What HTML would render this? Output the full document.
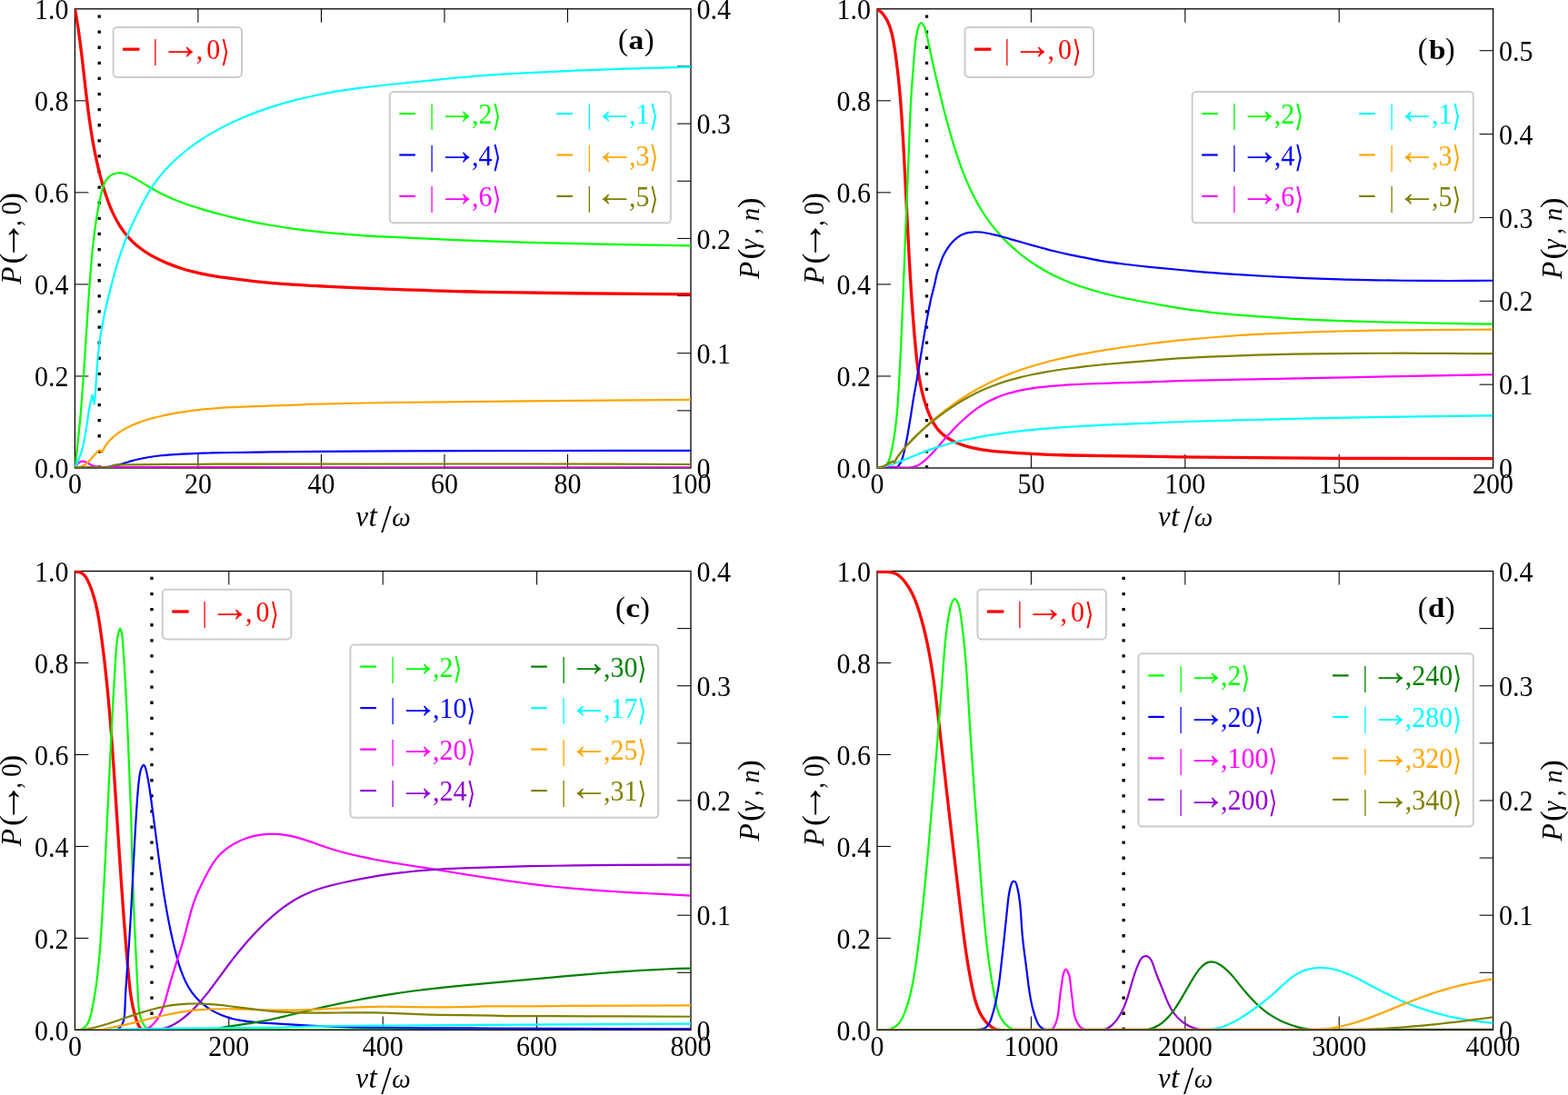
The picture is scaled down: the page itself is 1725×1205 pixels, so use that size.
<!DOCTYPE html>
<html lang="en"><head><meta charset="utf-8"><title>Figure</title>
<style>html,body{margin:0;padding:0;background:#fff;overflow:hidden}svg{display:block}</style></head>
<body>
<svg width="1725" height="1205" viewBox="0 0 1725 1205">
<rect width="1725" height="1205" fill="#fff"/>
<g>
<clipPath id="clip_a"><rect x="82.4" y="9.4" width="677.6" height="505.1"/></clipPath>
<rect x="82.4" y="9.8" width="677.6" height="505.2" fill="none" stroke="#000" stroke-width="1.3"/>
<g stroke="#000" stroke-width="1.05" fill="none">
<path d="M217.92,515v-15M217.92,9.8v15"/>
<path d="M353.44,515v-15M353.44,9.8v15"/>
<path d="M488.96,515v-15M488.96,9.8v15"/>
<path d="M624.48,515v-15M624.48,9.8v15"/>
<path d="M82.4,413.96h15"/>
<path d="M82.4,312.92h15"/>
<path d="M82.4,211.88h15"/>
<path d="M82.4,110.84h15"/>
<path d="M760,451.85h-15"/>
<path d="M760,388.7h-15"/>
<path d="M760,325.55h-15"/>
<path d="M760,262.4h-15"/>
<path d="M760,199.25h-15"/>
<path d="M760,136.1h-15"/>
<path d="M760,72.95h-15"/>
</g>
<g clip-path="url(#clip_a)" fill="none" stroke-linejoin="round" stroke-width="2.2">
<path d="M109.2,515V9.8" stroke="#000" stroke-width="3.3" stroke-dasharray="3.3 13.8" stroke-dashoffset="0.6"/>
<path d="M82.51,10.02C83.04,12.95 83.55,15.89 84.04,18.83C84.73,22.98 85.38,27.14 86,31.31C86.74,36.3 87.43,41.29 88.08,46.29C88.79,51.7 89.46,57.12 90.1,62.54C90.8,68.38 91.46,74.22 92.13,80.07C92.74,85.5 93.35,90.94 93.97,96.37C94.55,101.4 95.14,106.42 95.75,111.44C96.31,116.04 96.89,120.65 97.5,125.25C98.06,129.44 98.64,133.63 99.26,137.81C99.85,141.87 100.48,145.91 101.15,149.96C101.84,154.17 102.58,158.37 103.37,162.56C104.31,167.61 105.33,172.64 106.43,177.66C107.46,182.32 108.56,186.98 109.75,191.62C110.83,195.83 111.98,200.03 113.2,204.21C114.32,208.01 115.49,211.79 116.76,215.54C118.04,219.34 119.42,223.11 120.91,226.8C122.43,230.58 124.07,234.28 125.86,237.88C127.52,241.23 129.32,244.49 131.25,247.64C132.79,250.13 134.42,252.55 136.15,254.89C137.37,256.53 138.64,258.13 139.96,259.69C141.97,262.06 144.1,264.33 146.38,266.48C149,268.98 151.81,271.32 154.77,273.53C157.9,275.87 161.2,278.05 164.63,280.09C167.91,282.04 171.32,283.86 174.8,285.56C178.56,287.39 182.42,289.08 186.34,290.63C190.58,292.32 194.88,293.85 199.21,295.23C203.46,296.59 207.73,297.81 212.01,298.91C225.09,302.27 238.21,304.47 250.58,305.93C267.29,308.28 283.99,310.24 300.7,311.6C317.4,312.95 334.11,313.85 350.82,314.76C367.52,315.67 384.23,316.46 400.93,317.17C411.29,317.61 421.65,318.01 432,318.36C465.41,319.5 498.82,320.65 532.23,321.29C565.64,321.94 599.06,322.37 632.47,322.73C675.07,323.19 717.66,323.59 760.26,323.81" stroke="#ff0000" stroke-width="3.3"/>
<path d="M82.51,514.06C83.15,509.03 83.76,504 84.34,498.96C85.06,492.72 85.74,486.47 86.37,480.21C87.21,471.88 87.98,463.55 88.7,455.2C89.42,446.86 90.08,438.5 90.71,430.15C91.34,421.79 91.92,413.43 92.49,405.06C92.82,400.12 93.15,395.17 93.47,390.22C93.9,383.53 94.33,376.84 94.76,370.15C95.18,363.45 95.61,356.76 96.04,350.07C96.5,342.97 96.97,335.87 97.46,328.78C97.84,323.35 98.22,317.93 98.62,312.51C98.91,308.67 99.2,304.84 99.5,301.01C99.84,296.63 100.2,292.25 100.58,287.88C101.01,282.88 101.48,277.87 101.99,272.87C102.5,267.86 103.06,262.84 103.69,257.82C104.31,252.8 105,247.76 105.78,242.72C106.49,238.08 107.27,233.44 108.13,228.78C109,224.1 109.95,219.42 111,214.72C111.77,211.25 112.6,207.77 113.74,204.58C114.58,202.23 115.59,200.04 116.88,198.1C117.94,196.5 119.2,195.07 120.7,193.89C122.09,192.8 123.68,191.91 125.38,191.28C126.87,190.72 128.43,190.36 129.98,190.23C131.54,190.11 133.08,190.21 134.62,190.49C136.66,190.86 138.69,191.54 140.72,192.4C142.87,193.32 145.01,194.45 147.15,195.63C149.74,197.07 152.32,198.58 154.9,200.12C157.49,201.66 160.07,203.23 162.66,204.78C165.19,206.29 167.73,207.78 170.29,209.2C173.64,211.07 177.02,212.81 180.43,214.45C183.76,216.06 187.12,217.56 190.49,218.98C193.81,220.38 197.14,221.69 200.49,222.94C203.81,224.18 207.15,225.35 210.5,226.48C213.8,227.58 217.11,228.64 220.44,229.67C223.74,230.69 227.06,231.68 230.38,232.63C234.52,233.82 238.68,234.96 242.85,236.05C246.98,237.13 251.13,238.17 255.3,239.16C259.45,240.15 263.62,241.1 267.8,242.01C271.96,242.91 276.12,243.77 280.3,244.59C285.47,245.6 290.66,246.56 295.86,247.46C305.77,249.18 315.72,250.7 325.71,252.04C334.08,253.17 342.47,254.17 350.87,255.07C359.25,255.97 367.64,256.76 376.03,257.46C384.39,258.15 392.75,258.76 401.1,259.29C411.43,259.95 421.74,260.49 432,260.95C457.06,262.19 482.12,263.34 507.17,264.3C532.23,265.26 557.29,266.13 582.35,266.82C607.41,267.52 632.47,268.1 657.52,268.6C691.77,269.29 726.02,269.91 760.26,270.38" stroke="#00ff00"/>
<path d="M82.51,514.06C93.36,514.06 104.22,514.06 115.08,514.06C115.92,514.06 116.75,513.99 117.59,513.93C119.26,513.82 120.93,513.47 122.6,513.18C124.27,512.9 125.94,512.55 127.61,512.18C129.28,511.81 130.95,511.38 132.62,510.93C134.71,510.36 136.8,509.67 138.89,509.05C140.97,508.42 143.06,507.74 145.15,507.17C147.66,506.48 150.16,505.85 152.67,505.29C155.17,504.73 157.68,504.24 160.19,503.79C162.69,503.33 165.2,502.89 167.7,502.53C171.04,502.05 174.38,501.62 177.73,501.28C181.07,500.94 184.41,500.65 187.75,500.4C191.09,500.16 194.43,499.96 197.77,499.78C201.11,499.59 204.45,499.42 207.8,499.28C211.14,499.13 214.48,499.01 217.82,498.9C222,498.76 226.17,498.63 230.35,498.52C238.7,498.32 247.05,498.17 255.41,498.02C263.76,497.88 272.11,497.78 280.46,497.65C285.64,497.57 290.82,497.46 296,497.4C314,497.17 332,497.03 350,496.9C377.33,496.7 404.67,496.5 432,496.4C488,496.2 544,496.09 600,496C653.43,495.91 706.87,495.84 760.3,495.8" stroke="#0000ff"/>
<path d="M82.51,513.81C83.3,512.79 84.35,511.39 85.56,510.2C86.4,509.37 87.32,508.64 88.3,508.19C89.24,507.77 90.24,507.62 91.24,507.67C92.26,507.73 93.29,508 94.3,508.41C95.42,508.87 96.51,509.51 97.59,510.16C98.84,510.91 100.07,511.69 101.35,512.25C102.54,512.77 103.76,513.1 105.02,513.32C106.63,513.61 108.31,513.71 110.07,513.81C326.81,514.29 543.56,514.3 760.3,514.3" stroke="#ff00ff"/>
<path d="M82.51,514.06C83.49,512.33 84.39,510.57 85.21,508.79C86.52,505.99 87.65,503.12 88.64,500.21C89.74,496.98 90.66,493.69 91.46,490.35C92.45,486.23 93.25,482.05 93.96,477.83C94.8,472.81 95.5,467.73 96.23,462.67C96.96,457.6 97.7,452.54 98.63,447.55C99.44,443.22 100.37,438.95 101.55,434.75L101.55,434.75C102.3,438.01 103.05,441.27 103.81,444.52L103.81,444.52C104.07,441.81 104.31,439.09 104.54,436.38C104.95,431.37 105.3,426.37 105.64,421.36C106,415.92 106.36,410.48 106.75,405.04C106.99,401.76 107.24,398.48 107.53,395.2C107.96,390.19 108.46,385.19 109.08,380.19C109.59,376.01 110.19,371.84 110.86,367.67C111.66,362.65 112.56,357.63 113.54,352.64C114.53,347.6 115.61,342.59 116.74,337.59C117.7,333.33 118.71,329.09 119.76,324.87C120.89,320.26 122.07,315.67 123.26,311.11C124.24,307.36 125.24,303.64 126.27,299.93C127.02,297.23 127.79,294.54 128.59,291.85C129.68,288.16 130.83,284.48 132.06,280.81C133.18,277.45 134.36,274.1 135.6,270.76C136.88,267.32 138.22,263.9 139.61,260.47C141.18,256.65 142.82,252.83 144.52,249.02C146.14,245.38 147.83,241.75 149.56,238.15C151.25,234.63 152.98,231.14 154.75,227.68C156.64,223.97 158.58,220.3 160.6,216.7C162.52,213.27 164.53,209.91 166.65,206.64C168.6,203.65 170.65,200.74 172.79,197.91C175.18,194.74 177.69,191.67 180.31,188.7C182.72,185.96 185.22,183.3 187.8,180.72C190.28,178.24 192.83,175.83 195.45,173.49C198.34,170.91 201.3,168.41 204.34,166C207.2,163.73 210.12,161.53 213.09,159.4C215.53,157.65 218.01,155.95 220.53,154.29C222.27,153.14 224.04,152.01 225.82,150.89C227.3,149.97 228.8,149.05 230.3,148.16C234.39,145.71 238.56,143.37 242.77,141.13C246.89,138.93 251.06,136.84 255.28,134.83C259.41,132.87 263.59,131 267.8,129.2C271.96,127.43 276.16,125.75 280.39,124.14C285.51,122.19 290.68,120.35 295.89,118.63C305.7,115.37 315.64,112.5 325.69,109.94C334.01,107.82 342.41,105.93 350.84,104.22C359.2,102.53 367.6,101.03 376.02,99.68C384.38,98.35 392.76,97.17 401.12,96.11C411.45,94.81 421.76,93.7 432,92.72C448.71,90.95 465.41,89.19 482.12,87.6C498.82,86.01 515.53,84.31 532.23,83.11C548.94,81.92 565.64,81.03 582.35,80.13C599.06,79.23 615.76,78.33 632.47,77.65C649.17,76.97 665.88,76.45 682.58,75.92C708.48,75.1 734.37,74.33 760.26,73.67" stroke="#00ffff"/>
<path d="M82.51,514.06C84.91,514.37 87.04,514.15 88.99,513.55C90.21,513.18 91.36,512.65 92.45,512C93.79,511.21 95.04,510.23 96.23,509.15C97.53,507.97 98.76,506.66 99.95,505.3C101.26,503.82 102.53,502.29 103.81,500.82C104.91,499.57 106.01,498.36 107.16,497.25C107.9,496.54 108.66,495.87 109.44,495.27L109.44,495.27C109.99,495.27 110.53,495.55 111.07,495.89C111.49,496.16 111.91,496.94 112.32,497.77L112.32,497.77C112.89,496.35 113.53,494.98 114.24,493.66C114.97,492.3 115.78,490.99 116.65,489.73C117.55,488.44 118.51,487.2 119.54,486.01C120.94,484.38 122.46,482.85 124.06,481.39C125.91,479.73 127.88,478.17 129.94,476.71C132.32,475.02 134.81,473.47 137.38,472.03C139.83,470.66 142.33,469.4 144.89,468.24C147.34,467.12 149.83,466.08 152.36,465.12C154.86,464.18 157.38,463.31 159.93,462.49C162.45,461.69 164.98,460.95 167.54,460.26C170.92,459.34 174.33,458.5 177.74,457.73C181.11,456.96 184.48,456.25 187.86,455.6C191.22,454.95 194.58,454.35 197.94,453.8C201.28,453.25 204.62,452.75 207.96,452.3C211.3,451.84 214.63,451.43 217.96,451.06C222.12,450.59 226.28,450.18 230.44,449.82C234.6,449.46 238.76,449.14 242.92,448.87C247.07,448.59 251.23,448.36 255.39,448.15C259.55,447.94 263.71,447.76 267.87,447.6C272.04,447.44 276.2,447.3 280.37,447.17C285.53,447.01 290.71,446.86 295.88,446.7C310.54,446.27 325.25,445.81 340,444.9C370.67,444.02 401.33,443.44 432,443C482,442.28 532,441.87 582,441.4C641.43,440.84 700.87,440.33 760.3,439.9" stroke="#ffa500"/>
<path d="M82.51,514.06C95.45,514.06 108.4,514.06 121.35,514.06C121.76,514.06 122.18,513.73 122.6,513.56L122.6,513.56C123.22,512.81 123.85,512.13 124.48,511.93C125.1,511.73 125.73,511.58 126.36,511.55C131.79,511.35 137.22,511.37 142.64,511.3C151,511.2 159.35,511.11 167.7,511.05C184.41,510.94 201.11,510.87 217.82,510.8C243.88,510.7 269.94,510.56 296,510.55C391.45,510.51 486.9,510.5 582.35,510.5C641.65,510.5 700.96,510.76 760.26,510.99" stroke="#808000"/>
</g>
<g fill="#000">
<text transform="translate(82.4,543.3) scale(1,1.085)" font-family='"Liberation Serif","DejaVu Serif",serif' font-size="30" text-anchor="middle">0</text>
<text transform="translate(217.92,543.3) scale(1,1.085)" font-family='"Liberation Serif","DejaVu Serif",serif' font-size="30" text-anchor="middle">20</text>
<text transform="translate(353.44,543.3) scale(1,1.085)" font-family='"Liberation Serif","DejaVu Serif",serif' font-size="30" text-anchor="middle">40</text>
<text transform="translate(488.96,543.3) scale(1,1.085)" font-family='"Liberation Serif","DejaVu Serif",serif' font-size="30" text-anchor="middle">60</text>
<text transform="translate(624.48,543.3) scale(1,1.085)" font-family='"Liberation Serif","DejaVu Serif",serif' font-size="30" text-anchor="middle">80</text>
<text transform="translate(760,543.3) scale(1,1.085)" font-family='"Liberation Serif","DejaVu Serif",serif' font-size="30" text-anchor="middle">100</text>
<text transform="translate(75.5,526.1) scale(1,1.085)" font-family='"Liberation Serif","DejaVu Serif",serif' font-size="30" text-anchor="end">0.0</text>
<text transform="translate(75.5,425.06) scale(1,1.085)" font-family='"Liberation Serif","DejaVu Serif",serif' font-size="30" text-anchor="end">0.2</text>
<text transform="translate(75.5,324.02) scale(1,1.085)" font-family='"Liberation Serif","DejaVu Serif",serif' font-size="30" text-anchor="end">0.4</text>
<text transform="translate(75.5,222.98) scale(1,1.085)" font-family='"Liberation Serif","DejaVu Serif",serif' font-size="30" text-anchor="end">0.6</text>
<text transform="translate(75.5,121.94) scale(1,1.085)" font-family='"Liberation Serif","DejaVu Serif",serif' font-size="30" text-anchor="end">0.8</text>
<text transform="translate(75.5,20.9) scale(1,1.085)" font-family='"Liberation Serif","DejaVu Serif",serif' font-size="30" text-anchor="end">1.0</text>
<text transform="translate(766.5,526.1) scale(1,1.085)" font-family='"Liberation Serif","DejaVu Serif",serif' font-size="30">0</text>
<text transform="translate(766.5,399.8) scale(1,1.085)" font-family='"Liberation Serif","DejaVu Serif",serif' font-size="30">0.1</text>
<text transform="translate(766.5,273.5) scale(1,1.085)" font-family='"Liberation Serif","DejaVu Serif",serif' font-size="30">0.2</text>
<text transform="translate(766.5,147.2) scale(1,1.085)" font-family='"Liberation Serif","DejaVu Serif",serif' font-size="30">0.3</text>
<text transform="translate(766.5,20.9) scale(1,1.085)" font-family='"Liberation Serif","DejaVu Serif",serif' font-size="30">0.4</text>
</g>
<g fill="#000"><text transform="translate(391.38,578.6) scale(1.017,1.017)" font-family='"Liberation Serif","DejaVu Serif",serif' font-size="30" font-style="italic">v</text><text transform="translate(405.43,578.57) scale(1.112,1.112)" font-family='"Liberation Serif","DejaVu Serif",serif' font-size="30" font-style="italic">t</text><text transform="translate(419.3,585.76) scale(1.356,1.485)" font-family='"Liberation Serif","DejaVu Serif",serif' font-size="30">/</text><text transform="translate(431.24,578.62) scale(0.968,0.968)" font-family='"Liberation Serif","DejaVu Serif",serif' font-size="30" font-style="italic">ω</text></g>
<g fill="#000" transform="translate(22.9,262.4) rotate(-90)"><text transform="translate(-50.23,0) scale(1.049,1.049)" font-family='"Liberation Serif","DejaVu Serif",serif' font-size="30" font-style="italic">P</text><text transform="translate(-28.17,0.32) scale(1.194,1.125)" font-family='"Liberation Serif","DejaVu Serif",serif' font-size="30">(</text><text transform="translate(-24.7,-0.25) scale(1.487,1.536)" font-family='"Liberation Serif","DejaVu Serif",serif' font-size="30">→</text><text transform="translate(13.53,0.45) scale(0.851,1.116)" font-family='"Liberation Serif","DejaVu Serif",serif' font-size="30">,</text><text transform="translate(25.87,0) scale(0.991,1.037)" font-family='"Liberation Serif","DejaVu Serif",serif' font-size="30">0</text><text transform="translate(38.55,0.32) scale(1.194,1.125)" font-family='"Liberation Serif","DejaVu Serif",serif' font-size="30">)</text></g>
<g fill="#000" transform="translate(834.9,262.4) rotate(-90)"><text transform="translate(-44.53,0) scale(1.049,1.049)" font-family='"Liberation Serif","DejaVu Serif",serif' font-size="30" font-style="italic">P</text><text transform="translate(-23.17,0.32) scale(1.194,1.125)" font-family='"Liberation Serif","DejaVu Serif",serif' font-size="30">(</text><text transform="translate(-12.32,-0.48) scale(0.967,0.967)" font-family='"Liberation Serif","DejaVu Serif",serif' font-size="30" font-style="italic">γ</text><text transform="translate(4.83,0.45) scale(0.851,1.116)" font-family='"Liberation Serif","DejaVu Serif",serif' font-size="30">,</text><text transform="translate(19.17,0) scale(0.962,0.962)" font-family='"Liberation Serif","DejaVu Serif",serif' font-size="30" font-style="italic">n</text><text transform="translate(33.05,0.32) scale(1.194,1.125)" font-family='"Liberation Serif","DejaVu Serif",serif' font-size="30">)</text></g>
</g>
<rect x="124.6" y="30" width="141.4" height="54.9" rx="4.3" fill="#fff" fill-opacity="0.8" stroke="#ccc" stroke-width="2"/>
<path d="M135.1,54.2h18.4" stroke="#ff0000" stroke-width="3.3"/>
<g fill="#ff0000"><text transform="translate(168.34,65.3) scale(0.870,1.081)" font-family='"Liberation Serif","DejaVu Serif",serif' font-size="30">|</text><text transform="translate(176.26,65.05) scale(1.493,1.536)" font-family='"Liberation Serif","DejaVu Serif",serif' font-size="30">→</text><text transform="translate(215.7,65.2) scale(1,1.085)" font-family='"Liberation Serif","DejaVu Serif",serif' font-size="30">,</text><text transform="translate(227.2,65.2) scale(1,1.085)" font-family='"Liberation Serif","DejaVu Serif",serif' font-size="30">0</text><text transform="translate(242.8,67.93) scale(0.831,1.104)" font-family='"DejaVu Sans","Liberation Serif",sans-serif' font-size="30">⟩</text></g>
<rect x="428.8" y="100.9" width="309.1" height="144.4" rx="4.3" fill="#fff" fill-opacity="0.8" stroke="#ccc" stroke-width="2"/>
<path d="M439.3,125.1h17.6" stroke="#00ff00" stroke-width="2.2"/>
<g fill="#00ff00"><text transform="translate(472.54,136.2) scale(0.870,1.081)" font-family='"Liberation Serif","DejaVu Serif",serif' font-size="30">|</text><text transform="translate(480.46,135.95) scale(1.493,1.536)" font-family='"Liberation Serif","DejaVu Serif",serif' font-size="30">→</text><text transform="translate(519,136.1) scale(1,1.085)" font-family='"Liberation Serif","DejaVu Serif",serif' font-size="30">,2</text><text transform="translate(541.5,138.83) scale(0.831,1.104)" font-family='"DejaVu Sans","Liberation Serif",sans-serif' font-size="30">⟩</text></g>
<path d="M439.3,170.5h17.6" stroke="#0000ff" stroke-width="2.2"/>
<g fill="#0000ff"><text transform="translate(472.54,181.6) scale(0.870,1.081)" font-family='"Liberation Serif","DejaVu Serif",serif' font-size="30">|</text><text transform="translate(480.46,181.35) scale(1.493,1.536)" font-family='"Liberation Serif","DejaVu Serif",serif' font-size="30">→</text><text transform="translate(519,181.5) scale(1,1.085)" font-family='"Liberation Serif","DejaVu Serif",serif' font-size="30">,4</text><text transform="translate(541.5,184.23) scale(0.831,1.104)" font-family='"DejaVu Sans","Liberation Serif",sans-serif' font-size="30">⟩</text></g>
<path d="M439.3,215.9h17.6" stroke="#ff00ff" stroke-width="2.2"/>
<g fill="#ff00ff"><text transform="translate(472.54,227) scale(0.870,1.081)" font-family='"Liberation Serif","DejaVu Serif",serif' font-size="30">|</text><text transform="translate(480.46,226.75) scale(1.493,1.536)" font-family='"Liberation Serif","DejaVu Serif",serif' font-size="30">→</text><text transform="translate(519,226.9) scale(1,1.085)" font-family='"Liberation Serif","DejaVu Serif",serif' font-size="30">,6</text><text transform="translate(541.5,229.63) scale(0.831,1.104)" font-family='"DejaVu Sans","Liberation Serif",sans-serif' font-size="30">⟩</text></g>
<path d="M612.4,125.1h17.6" stroke="#00ffff" stroke-width="2.2"/>
<g fill="#00ffff"><text transform="translate(645.64,136.2) scale(0.870,1.081)" font-family='"Liberation Serif","DejaVu Serif",serif' font-size="30">|</text><text transform="translate(653.56,135.95) scale(1.493,1.536)" font-family='"Liberation Serif","DejaVu Serif",serif' font-size="30">←</text><text transform="translate(692.1,136.1) scale(1,1.085)" font-family='"Liberation Serif","DejaVu Serif",serif' font-size="30">,1</text><text transform="translate(714.6,138.83) scale(0.831,1.104)" font-family='"DejaVu Sans","Liberation Serif",sans-serif' font-size="30">⟩</text></g>
<path d="M612.4,170.5h17.6" stroke="#ffa500" stroke-width="2.2"/>
<g fill="#ffa500"><text transform="translate(645.64,181.6) scale(0.870,1.081)" font-family='"Liberation Serif","DejaVu Serif",serif' font-size="30">|</text><text transform="translate(653.56,181.35) scale(1.493,1.536)" font-family='"Liberation Serif","DejaVu Serif",serif' font-size="30">←</text><text transform="translate(692.1,181.5) scale(1,1.085)" font-family='"Liberation Serif","DejaVu Serif",serif' font-size="30">,3</text><text transform="translate(714.6,184.23) scale(0.831,1.104)" font-family='"DejaVu Sans","Liberation Serif",sans-serif' font-size="30">⟩</text></g>
<path d="M612.4,215.9h17.6" stroke="#808000" stroke-width="2.2"/>
<g fill="#808000"><text transform="translate(645.64,227) scale(0.870,1.081)" font-family='"Liberation Serif","DejaVu Serif",serif' font-size="30">|</text><text transform="translate(653.56,226.75) scale(1.493,1.536)" font-family='"Liberation Serif","DejaVu Serif",serif' font-size="30">←</text><text transform="translate(692.1,226.9) scale(1,1.085)" font-family='"Liberation Serif","DejaVu Serif",serif' font-size="30">,5</text><text transform="translate(714.6,229.63) scale(0.831,1.104)" font-family='"DejaVu Sans","Liberation Serif",sans-serif' font-size="30">⟩</text></g>
<g fill="#000"><text transform="translate(680.06,54.62) scale(1.090,1.125)" font-family='"Liberation Serif","DejaVu Serif",serif' font-size="30">(</text><text transform="translate(691.52,54.12) scale(1.119,0.967)" font-family='"Liberation Serif","DejaVu Serif",serif' font-size="30" font-weight="bold">a</text><text transform="translate(708.65,54.62) scale(1.090,1.125)" font-family='"Liberation Serif","DejaVu Serif",serif' font-size="30">)</text></g>
<g>
<clipPath id="clip_b"><rect x="965" y="9.4" width="677.6" height="505.1"/></clipPath>
<rect x="965" y="9.8" width="677.6" height="505.2" fill="none" stroke="#000" stroke-width="1.3"/>
<g stroke="#000" stroke-width="1.05" fill="none">
<path d="M1134.4,515v-15M1134.4,9.8v15"/>
<path d="M1303.8,515v-15M1303.8,9.8v15"/>
<path d="M1473.2,515v-15M1473.2,9.8v15"/>
<path d="M965,413.96h15"/>
<path d="M965,312.92h15"/>
<path d="M965,211.88h15"/>
<path d="M965,110.84h15"/>
<path d="M1642.6,423.15h-15"/>
<path d="M1642.6,331.29h-15"/>
<path d="M1642.6,239.44h-15"/>
<path d="M1642.6,147.58h-15"/>
<path d="M1642.6,55.73h-15"/>
</g>
<g clip-path="url(#clip_b)" fill="none" stroke-linejoin="round" stroke-width="2.2">
<path d="M1019.5,515V9.8" stroke="#000" stroke-width="3.3" stroke-dasharray="3.3 13.8" stroke-dashoffset="0.6"/>
<path d="M965.01,10.4C966.15,10.99 967.19,11.67 968.15,12.41C969.38,13.35 970.47,14.4 971.47,15.54C973.29,17.62 974.77,20 976.04,22.52C978.07,26.54 979.58,30.94 980.78,35.54C982.29,41.32 983.31,47.42 984.23,53.49C985.34,60.77 986.31,68.01 987.17,75.22C987.98,81.98 988.7,88.72 989.33,95.44C989.89,101.31 990.39,107.16 990.85,113.01C991.34,119.25 991.78,125.49 992.18,131.73C992.58,137.83 992.95,143.94 993.31,150.05C993.79,158.35 994.25,166.67 994.69,175C995.14,183.33 995.56,191.66 995.98,200.01C996.4,208.35 996.81,216.7 997.22,225.05C997.63,233.41 998.04,241.78 998.47,250.14C998.89,258.51 999.32,266.88 999.77,275.25C1000.21,283.49 1000.67,291.74 1001.16,299.98C1001.66,308.35 1002.18,316.71 1002.74,325.07C1003.3,333.44 1003.89,341.8 1004.53,350.16C1005.04,356.86 1005.58,363.55 1006.15,370.24C1006.43,373.51 1006.72,376.79 1007.02,380.06C1007.4,384.24 1007.79,388.42 1008.23,392.58C1008.75,397.6 1009.33,402.61 1010.03,407.6C1010.73,412.62 1011.54,417.62 1012.51,422.59C1013.41,427.2 1014.45,431.78 1015.67,436.34C1016.79,440.56 1018.08,444.75 1019.54,448.9C1020.9,452.75 1022.41,456.57 1024.17,460.22C1025.64,463.27 1027.29,466.21 1029.16,468.95C1030.97,471.6 1032.99,474.07 1035.28,476.29C1037.47,478.41 1039.9,480.3 1042.51,481.99C1045.26,483.77 1048.19,485.33 1051.24,486.69C1054.11,487.98 1057.07,489.11 1060.09,490.09C1063.45,491.18 1066.87,492.1 1070.29,492.89C1073.65,493.66 1077.01,494.29 1080.38,494.83C1084.13,495.43 1087.88,495.91 1091.64,496.32C1095.79,496.77 1099.94,497.13 1104.1,497.46C1108.25,497.79 1112.41,498.09 1116.58,498.37C1122.83,498.79 1129.09,499.15 1135.36,499.47C1141.63,499.79 1147.9,500.06 1154.18,500.3C1161.47,500.57 1168.76,500.79 1176.04,500.98C1189,501.31 1201.95,501.52 1214.82,501.7C1241.88,502.14 1268.94,502.5 1296,502.8C1353.47,503.44 1410.94,504.2 1468.41,504.34C1526.46,504.49 1584.51,504.6 1642.56,504.6" stroke="#ff0000" stroke-width="3.3"/>
<path d="M965.26,514.31C967.4,514.51 969.2,514.36 970.73,513.92C972.03,513.55 973.13,512.98 974.08,512.25C975.5,511.15 976.56,509.69 977.4,508.01C978.7,505.43 979.46,502.33 980.16,499.23C981.13,494.99 981.97,490.74 982.73,486.49C983.69,481.05 984.49,475.6 985.18,470.15C986.07,463.05 986.75,455.95 987.31,448.84C987.98,440.5 988.47,432.16 988.94,423.82C989.41,415.47 989.85,407.13 990.27,398.79C990.66,390.92 991.04,383.05 991.4,375.18C991.78,366.83 992.14,358.48 992.49,350.14C992.84,341.79 993.18,333.44 993.51,325.08C994.08,310.6 994.64,296.11 995.19,281.61C995.43,275.34 995.67,269.07 995.92,262.8C996.16,256.53 996.41,250.26 996.66,243.99C996.91,237.72 997.17,231.44 997.43,225.17C997.69,218.9 997.95,212.62 998.21,206.35C998.47,200.07 998.72,193.8 998.97,187.53C999.23,181.26 999.47,174.99 999.71,168.72C1000.1,158.39 1000.46,148.07 1000.88,137.76C1001.14,131.49 1001.41,125.24 1001.73,118.98C1002.04,112.72 1002.4,106.47 1002.81,100.22C1003.25,93.55 1003.75,86.88 1004.28,80.22C1004.8,73.54 1005.35,66.87 1005.88,60.19C1006.32,54.55 1006.75,48.9 1007.54,43.24C1008.03,39.72 1008.66,36.2 1009.51,32.68C1009.99,30.7 1010.55,28.72 1011.54,26.94C1012.11,25.9 1012.84,24.93 1013.57,24.98C1014.29,25.03 1015.02,26.09 1015.65,27.17C1016.66,28.87 1017.41,30.59 1018.02,32.33C1019.03,35.27 1019.61,38.25 1020.21,41.26C1020.96,45 1021.75,48.8 1022.56,52.61C1023.81,58.52 1025.12,64.49 1026.44,70.4C1027.75,76.3 1029.08,82.15 1030.43,87.96C1032.07,95.04 1033.74,102.07 1035.47,109.07C1037.01,115.29 1038.59,121.49 1040.23,127.69C1041.67,133.12 1043.15,138.56 1044.69,144.01C1046.42,150.13 1048.22,156.26 1050.12,162.39C1051.7,167.46 1053.36,172.53 1055.11,177.56C1056.73,182.22 1058.44,186.84 1060.24,191.42C1062.24,196.51 1064.36,201.54 1066.63,206.49C1068.58,210.75 1070.64,214.95 1072.82,219.07C1074.83,222.87 1076.94,226.6 1079.16,230.26C1081.2,233.61 1083.33,236.9 1085.57,240.11C1087.95,243.52 1090.44,246.85 1093.04,250.09C1095.81,253.53 1098.7,256.88 1101.7,260.13C1104.5,263.15 1107.4,266.08 1110.39,268.92C1113.6,271.97 1116.91,274.91 1120.33,277.74C1123.54,280.4 1126.83,282.96 1130.21,285.41C1133.85,288.07 1137.59,290.6 1141.41,293.01C1145.44,295.54 1149.56,297.94 1153.76,300.18C1156.77,301.79 1159.82,303.32 1162.9,304.78C1167.17,306.8 1171.51,308.69 1175.91,310.46C1180.45,312.28 1185.05,313.97 1189.7,315.55C1197.98,318.36 1206.41,320.82 1214.93,323.01C1223.3,325.16 1231.76,327.06 1240.22,328.79C1248.63,330.51 1257.05,332.06 1265.41,333.54C1275.74,335.36 1285.98,337.06 1296,338.82C1311.71,341.15 1327.41,343.29 1343.12,344.85C1359.82,346.5 1376.53,347.73 1393.23,348.88C1409.94,350.03 1426.64,351.16 1443.35,351.91C1460.06,352.66 1476.76,353.19 1493.47,353.69C1510.17,354.18 1526.88,354.61 1543.58,354.97C1560.29,355.32 1576.99,355.6 1593.7,355.88C1609.99,356.15 1626.27,356.4 1642.56,356.63" stroke="#00ff00"/>
<path d="M965.26,514.31C971.44,514.31 977.62,514.31 983.81,514.31C984.85,514.31 985.89,514.1 986.94,513.81C987.98,513.52 989.03,511.88 990.07,510.3C990.99,508.91 991.91,506.67 992.83,504.04C993.79,501.28 994.75,497.04 995.71,492.76C996.75,488.11 997.8,482.29 998.84,476.47C999.88,470.66 1000.93,464.15 1001.97,457.68C1003.02,451.21 1004.06,443.83 1005.1,437.63C1006.15,431.43 1007.19,426.34 1008.24,420.28C1009.2,414.7 1010.16,408.54 1011.12,402.74C1011.95,397.69 1012.79,392.71 1013.62,387.7C1014.46,382.69 1015.29,377.68 1016.13,372.67C1016.97,367.66 1017.8,362.41 1018.64,357.63C1019.55,352.38 1020.47,347.3 1021.39,342.6C1022.44,337.26 1023.48,332.13 1024.52,327.56C1025.78,322.08 1027.03,317.92 1028.28,312.53C1029.12,308.93 1029.95,304.03 1030.79,300.97C1031.83,297.15 1032.88,294.53 1033.92,291.58C1035.17,288.03 1036.43,284.23 1037.68,281.55C1039.35,277.99 1041.02,275.22 1042.69,272.78C1044.36,270.35 1046.03,268.28 1047.7,266.52C1049.79,264.32 1051.88,262.29 1053.97,260.88C1056.06,259.47 1058.14,258.23 1060.23,257.5C1062.32,256.77 1064.41,256.17 1066.5,255.87C1068.58,255.57 1070.67,255.24 1072.76,255.24C1074.85,255.24 1076.94,255.36 1079.03,255.49C1081.11,255.63 1083.2,256.11 1085.29,256.5C1087.8,256.96 1090.3,257.55 1092.81,258.13C1095.73,258.79 1098.65,259.49 1101.58,260.25C1104.5,261.02 1107.42,261.93 1110.35,262.76C1114.52,263.94 1118.7,265.08 1122.88,266.27C1127.05,267.46 1131.23,268.73 1135.41,269.9C1139.58,271.07 1143.76,272.18 1147.93,273.29C1152.11,274.39 1156.29,275.53 1160.46,276.54C1165.64,277.8 1170.82,278.95 1176,280.05C1180.59,281.03 1185.17,281.93 1189.76,282.84C1198.11,284.5 1206.46,286.36 1214.82,287.67C1223.17,288.99 1231.52,289.98 1239.87,291C1248.23,292.02 1256.58,292.97 1264.93,293.83C1275.29,294.89 1285.65,295.77 1296,296.73C1307.53,297.81 1319.06,299.01 1330.59,299.97C1334.76,300.31 1338.94,300.64 1343.12,300.93C1359.82,302.09 1376.53,303.12 1393.23,304.01C1409.94,304.89 1426.64,305.71 1443.35,306.34C1460.06,306.97 1476.76,307.55 1493.47,307.92C1510.17,308.28 1526.88,308.6 1543.58,308.74C1560.29,308.88 1576.99,309.02 1593.7,309.02C1609.99,309.02 1626.27,308.94 1642.56,308.77" stroke="#0000ff"/>
<path d="M965.26,514.31C979.19,511.61 991.6,515.98 1002.31,514.38C1004.19,514.1 1006.03,513.64 1007.8,512.92C1009.33,512.3 1010.82,511.49 1012.27,510.56C1013.93,509.49 1015.54,508.25 1017.1,506.94C1018.87,505.46 1020.57,503.88 1022.22,502.24C1024.39,500.08 1026.48,497.81 1028.54,495.48C1030.7,493.03 1032.84,490.52 1035,488.01C1037.16,485.51 1039.35,483 1041.57,480.52C1043.68,478.17 1045.82,475.83 1048,473.53C1050.07,471.34 1052.17,469.18 1054.31,467.07C1056.34,465.07 1058.4,463.1 1060.5,461.2C1062.94,458.98 1065.43,456.84 1067.97,454.79C1070.4,452.83 1072.89,450.95 1075.43,449.17C1078.63,446.93 1081.92,444.85 1085.3,442.97C1088.5,441.19 1091.79,439.58 1095.16,438.12C1098.41,436.72 1101.73,435.46 1105.11,434.32C1108.78,433.09 1112.52,432.01 1116.31,431.06C1120.45,430.02 1124.65,429.13 1128.89,428.37C1133.07,427.61 1137.29,426.98 1141.53,426.43C1145.74,425.89 1149.98,425.44 1154.22,425.05C1158.44,424.66 1162.67,424.33 1166.89,424.03C1170,423.81 1173.11,423.61 1176.21,423.43C1182.49,423.06 1188.74,422.75 1194.97,422.49C1201.63,422.21 1208.27,421.98 1214.91,421.78C1223.2,421.54 1231.47,421.33 1239.76,421.12C1248.06,420.92 1256.36,420.71 1264.71,420.44C1275.06,420.12 1285.48,419.72 1296,419.16C1328.41,418.19 1360.82,417.73 1393.23,417.06C1426.64,416.37 1460.06,415.73 1493.47,415.06C1526.88,414.39 1560.29,413.65 1593.7,413.06C1609.99,412.77 1626.27,412.51 1642.56,412.26" stroke="#ff00ff"/>
<path d="M965.26,514.31C968.66,514.1 972.08,513.5 975.5,512.64C977.64,512.1 979.78,511.46 981.93,510.75C984.91,509.77 987.89,508.66 990.88,507.5C993.86,506.34 996.86,505.14 999.87,503.92C1003.24,502.56 1006.62,501.17 1010.01,499.82C1013.4,498.47 1016.8,497.14 1020.21,495.89C1023.58,494.66 1026.95,493.5 1030.34,492.4C1034.12,491.18 1037.91,490.05 1041.71,488.98C1045.44,487.93 1049.18,486.96 1052.93,486.05C1057.09,485.04 1061.25,484.1 1065.43,483.23C1069.58,482.36 1073.74,481.56 1077.91,480.81C1082.05,480.07 1086.21,479.37 1090.37,478.71C1094.52,478.06 1098.68,477.44 1102.84,476.86C1107.41,476.22 1111.99,475.63 1116.58,475.08C1120.75,474.57 1124.91,474.1 1129.09,473.66C1133.25,473.22 1137.42,472.8 1141.6,472.42C1145.77,472.03 1149.94,471.67 1154.12,471.33C1158.29,471 1162.46,470.68 1166.64,470.39C1169.73,470.17 1172.82,469.96 1175.91,469.76C1182.17,469.36 1188.44,469 1194.71,468.67C1201.41,468.32 1208.11,467.99 1214.82,467.69C1223.19,467.32 1231.56,466.98 1239.93,466.64C1248.3,466.31 1256.67,465.98 1265.02,465.64C1275.37,465.22 1285.7,464.77 1296,464.26C1328.41,463.12 1360.82,462.46 1393.23,461.65C1426.64,460.81 1460.06,459.86 1493.47,459.29C1526.88,458.72 1560.29,458.35 1593.7,457.94C1609.99,457.73 1626.27,457.55 1642.56,457.37" stroke="#00ffff"/>
<path d="M965.26,514.31C967.47,514.65 969.45,514.3 971.31,513.61C973.02,512.97 974.62,512.04 976.22,511.08C977.51,510.29 978.8,509.48 980.13,508.79C980.84,508.42 981.56,508.08 982.3,507.8L982.3,507.8C982.8,508.3 983.3,508.8 983.81,509.3L983.8,509.3C984.64,507.67 985.57,506.06 986.59,504.46C987.51,503.02 988.49,501.59 989.53,500.17C990.85,498.38 992.25,496.61 993.7,494.86C995.31,492.93 996.98,491.03 998.68,489.15C1000.72,486.9 1002.8,484.68 1004.91,482.5C1007.31,480.02 1009.76,477.59 1012.25,475.2C1014.76,472.79 1017.32,470.42 1019.91,468.09C1022.41,465.84 1024.95,463.62 1027.52,461.45C1030.07,459.29 1032.65,457.17 1035.26,455.09C1039.37,451.82 1043.56,448.66 1047.82,445.6C1051.97,442.62 1056.2,439.75 1060.5,436.99C1064.6,434.36 1068.76,431.83 1072.97,429.42C1077.1,427.06 1081.28,424.81 1085.51,422.68C1089.62,420.61 1093.78,418.65 1097.98,416.79C1102.09,414.97 1106.23,413.25 1110.42,411.62C1114.52,410.03 1118.66,408.51 1122.83,407.07C1126.93,405.66 1131.07,404.32 1135.24,403.04C1139.36,401.78 1143.5,400.59 1147.67,399.45C1151.83,398.31 1156.01,397.23 1160.21,396.2C1165.37,394.93 1170.56,393.74 1175.76,392.61C1182.04,391.26 1188.34,390 1194.67,388.82C1201.4,387.56 1208.16,386.4 1214.92,385.3C1223.35,383.94 1231.79,382.7 1240.22,381.53C1248.61,380.38 1256.99,379.3 1265.32,378.26C1275.63,376.98 1285.87,375.78 1296,374.58C1311.71,372.98 1327.41,371.63 1343.12,370.5C1359.82,369.31 1376.53,368.27 1393.23,367.45C1409.94,366.64 1426.64,365.94 1443.35,365.41C1460.06,364.88 1476.76,364.44 1493.47,364.11C1510.17,363.78 1526.88,363.5 1543.58,363.32C1560.29,363.13 1576.99,363 1593.7,362.9C1609.99,362.79 1626.27,362.7 1642.56,362.65" stroke="#ffa500"/>
<path d="M965.26,514.31C967.48,514.6 969.45,514.21 971.31,513.48C973.02,512.8 974.62,511.83 976.22,510.84C977.51,510.04 978.79,509.22 980.12,508.53C980.83,508.16 981.56,507.82 982.3,507.54L982.3,507.54C982.8,508.05 983.3,508.55 983.81,509.05L983.8,509.05C984.6,507.39 985.52,505.76 986.54,504.15C987.46,502.7 988.45,501.26 989.51,499.84C990.81,498.09 992.21,496.37 993.66,494.67C995.3,492.75 997.01,490.87 998.74,489.02C1000.78,486.84 1002.84,484.71 1004.92,482.62C1007.33,480.22 1009.77,477.86 1012.25,475.56C1014.74,473.25 1017.27,470.99 1019.84,468.77C1022.35,466.61 1024.91,464.48 1027.51,462.4C1030.07,460.34 1032.67,458.34 1035.31,456.37C1039.39,453.33 1043.56,450.4 1047.82,447.6C1051.96,444.87 1056.17,442.26 1060.45,439.79C1064.57,437.41 1068.75,435.16 1072.99,433.04C1077.12,430.98 1081.31,429.05 1085.53,427.26C1089.65,425.52 1093.81,423.92 1098.01,422.44C1102.12,420.99 1106.25,419.66 1110.42,418.43C1114.52,417.21 1118.65,416.1 1122.81,415.07C1126.93,414.05 1131.07,413.11 1135.24,412.24C1139.37,411.37 1143.53,410.57 1147.7,409.82C1151.84,409.08 1156,408.39 1160.17,407.74C1165.34,406.93 1170.52,406.18 1175.72,405.48C1182.01,404.64 1188.32,403.86 1194.64,403.14C1201.4,402.38 1208.17,401.68 1214.94,401.03C1223.38,400.22 1231.82,399.49 1240.24,398.8C1248.64,398.11 1257.02,397.46 1265.35,396.82C1275.66,396.03 1285.9,395.25 1296,394.43C1311.71,393.45 1327.41,392.68 1343.12,392.04C1359.82,391.36 1376.53,390.74 1393.23,390.33C1409.94,389.92 1426.64,389.57 1443.35,389.36C1460.06,389.16 1476.76,389 1493.47,388.9C1510.17,388.81 1526.88,388.69 1543.58,388.69C1560.29,388.69 1576.99,388.87 1593.7,388.96C1609.99,389.04 1626.27,389.13 1642.56,389.21" stroke="#808000"/>
</g>
<g fill="#000">
<text transform="translate(965,543.3) scale(1,1.085)" font-family='"Liberation Serif","DejaVu Serif",serif' font-size="30" text-anchor="middle">0</text>
<text transform="translate(1134.4,543.3) scale(1,1.085)" font-family='"Liberation Serif","DejaVu Serif",serif' font-size="30" text-anchor="middle">50</text>
<text transform="translate(1303.8,543.3) scale(1,1.085)" font-family='"Liberation Serif","DejaVu Serif",serif' font-size="30" text-anchor="middle">100</text>
<text transform="translate(1473.2,543.3) scale(1,1.085)" font-family='"Liberation Serif","DejaVu Serif",serif' font-size="30" text-anchor="middle">150</text>
<text transform="translate(1642.6,543.3) scale(1,1.085)" font-family='"Liberation Serif","DejaVu Serif",serif' font-size="30" text-anchor="middle">200</text>
<text transform="translate(958.1,526.1) scale(1,1.085)" font-family='"Liberation Serif","DejaVu Serif",serif' font-size="30" text-anchor="end">0.0</text>
<text transform="translate(958.1,425.06) scale(1,1.085)" font-family='"Liberation Serif","DejaVu Serif",serif' font-size="30" text-anchor="end">0.2</text>
<text transform="translate(958.1,324.02) scale(1,1.085)" font-family='"Liberation Serif","DejaVu Serif",serif' font-size="30" text-anchor="end">0.4</text>
<text transform="translate(958.1,222.98) scale(1,1.085)" font-family='"Liberation Serif","DejaVu Serif",serif' font-size="30" text-anchor="end">0.6</text>
<text transform="translate(958.1,121.94) scale(1,1.085)" font-family='"Liberation Serif","DejaVu Serif",serif' font-size="30" text-anchor="end">0.8</text>
<text transform="translate(958.1,20.9) scale(1,1.085)" font-family='"Liberation Serif","DejaVu Serif",serif' font-size="30" text-anchor="end">1.0</text>
<text transform="translate(1649.1,526.1) scale(1,1.085)" font-family='"Liberation Serif","DejaVu Serif",serif' font-size="30">0</text>
<text transform="translate(1649.1,434.25) scale(1,1.085)" font-family='"Liberation Serif","DejaVu Serif",serif' font-size="30">0.1</text>
<text transform="translate(1649.1,342.39) scale(1,1.085)" font-family='"Liberation Serif","DejaVu Serif",serif' font-size="30">0.2</text>
<text transform="translate(1649.1,250.54) scale(1,1.085)" font-family='"Liberation Serif","DejaVu Serif",serif' font-size="30">0.3</text>
<text transform="translate(1649.1,158.68) scale(1,1.085)" font-family='"Liberation Serif","DejaVu Serif",serif' font-size="30">0.4</text>
<text transform="translate(1649.1,66.83) scale(1,1.085)" font-family='"Liberation Serif","DejaVu Serif",serif' font-size="30">0.5</text>
</g>
<g fill="#000"><text transform="translate(1273.98,578.6) scale(1.017,1.017)" font-family='"Liberation Serif","DejaVu Serif",serif' font-size="30" font-style="italic">v</text><text transform="translate(1288.03,578.57) scale(1.112,1.112)" font-family='"Liberation Serif","DejaVu Serif",serif' font-size="30" font-style="italic">t</text><text transform="translate(1301.9,585.76) scale(1.356,1.485)" font-family='"Liberation Serif","DejaVu Serif",serif' font-size="30">/</text><text transform="translate(1313.84,578.62) scale(0.968,0.968)" font-family='"Liberation Serif","DejaVu Serif",serif' font-size="30" font-style="italic">ω</text></g>
<g fill="#000" transform="translate(905.5,262.4) rotate(-90)"><text transform="translate(-50.23,0) scale(1.049,1.049)" font-family='"Liberation Serif","DejaVu Serif",serif' font-size="30" font-style="italic">P</text><text transform="translate(-28.17,0.32) scale(1.194,1.125)" font-family='"Liberation Serif","DejaVu Serif",serif' font-size="30">(</text><text transform="translate(-24.7,-0.25) scale(1.487,1.536)" font-family='"Liberation Serif","DejaVu Serif",serif' font-size="30">→</text><text transform="translate(13.53,0.45) scale(0.851,1.116)" font-family='"Liberation Serif","DejaVu Serif",serif' font-size="30">,</text><text transform="translate(25.87,0) scale(0.991,1.037)" font-family='"Liberation Serif","DejaVu Serif",serif' font-size="30">0</text><text transform="translate(38.55,0.32) scale(1.194,1.125)" font-family='"Liberation Serif","DejaVu Serif",serif' font-size="30">)</text></g>
<g fill="#000" transform="translate(1717.5,262.4) rotate(-90)"><text transform="translate(-44.53,0) scale(1.049,1.049)" font-family='"Liberation Serif","DejaVu Serif",serif' font-size="30" font-style="italic">P</text><text transform="translate(-23.17,0.32) scale(1.194,1.125)" font-family='"Liberation Serif","DejaVu Serif",serif' font-size="30">(</text><text transform="translate(-12.32,-0.48) scale(0.967,0.967)" font-family='"Liberation Serif","DejaVu Serif",serif' font-size="30" font-style="italic">γ</text><text transform="translate(4.83,0.45) scale(0.851,1.116)" font-family='"Liberation Serif","DejaVu Serif",serif' font-size="30">,</text><text transform="translate(19.17,0) scale(0.962,0.962)" font-family='"Liberation Serif","DejaVu Serif",serif' font-size="30" font-style="italic">n</text><text transform="translate(33.05,0.32) scale(1.194,1.125)" font-family='"Liberation Serif","DejaVu Serif",serif' font-size="30">)</text></g>
</g>
<rect x="1061.5" y="30" width="141.5" height="54.9" rx="4.3" fill="#fff" fill-opacity="0.8" stroke="#ccc" stroke-width="2"/>
<path d="M1072,54.2h18.4" stroke="#ff0000" stroke-width="3.3"/>
<g fill="#ff0000"><text transform="translate(1105.24,65.3) scale(0.870,1.081)" font-family='"Liberation Serif","DejaVu Serif",serif' font-size="30">|</text><text transform="translate(1113.16,65.05) scale(1.493,1.536)" font-family='"Liberation Serif","DejaVu Serif",serif' font-size="30">→</text><text transform="translate(1152.6,65.2) scale(1,1.085)" font-family='"Liberation Serif","DejaVu Serif",serif' font-size="30">,</text><text transform="translate(1164.1,65.2) scale(1,1.085)" font-family='"Liberation Serif","DejaVu Serif",serif' font-size="30">0</text><text transform="translate(1179.7,67.93) scale(0.831,1.104)" font-family='"DejaVu Sans","Liberation Serif",sans-serif' font-size="30">⟩</text></g>
<rect x="1311.6" y="100.9" width="309.2" height="144.4" rx="4.3" fill="#fff" fill-opacity="0.8" stroke="#ccc" stroke-width="2"/>
<path d="M1322.1,125.1h17.6" stroke="#00ff00" stroke-width="2.2"/>
<g fill="#00ff00"><text transform="translate(1355.34,136.2) scale(0.870,1.081)" font-family='"Liberation Serif","DejaVu Serif",serif' font-size="30">|</text><text transform="translate(1363.26,135.95) scale(1.493,1.536)" font-family='"Liberation Serif","DejaVu Serif",serif' font-size="30">→</text><text transform="translate(1401.8,136.1) scale(1,1.085)" font-family='"Liberation Serif","DejaVu Serif",serif' font-size="30">,2</text><text transform="translate(1424.3,138.83) scale(0.831,1.104)" font-family='"DejaVu Sans","Liberation Serif",sans-serif' font-size="30">⟩</text></g>
<path d="M1322.1,170.5h17.6" stroke="#0000ff" stroke-width="2.2"/>
<g fill="#0000ff"><text transform="translate(1355.34,181.6) scale(0.870,1.081)" font-family='"Liberation Serif","DejaVu Serif",serif' font-size="30">|</text><text transform="translate(1363.26,181.35) scale(1.493,1.536)" font-family='"Liberation Serif","DejaVu Serif",serif' font-size="30">→</text><text transform="translate(1401.8,181.5) scale(1,1.085)" font-family='"Liberation Serif","DejaVu Serif",serif' font-size="30">,4</text><text transform="translate(1424.3,184.23) scale(0.831,1.104)" font-family='"DejaVu Sans","Liberation Serif",sans-serif' font-size="30">⟩</text></g>
<path d="M1322.1,215.9h17.6" stroke="#ff00ff" stroke-width="2.2"/>
<g fill="#ff00ff"><text transform="translate(1355.34,227) scale(0.870,1.081)" font-family='"Liberation Serif","DejaVu Serif",serif' font-size="30">|</text><text transform="translate(1363.26,226.75) scale(1.493,1.536)" font-family='"Liberation Serif","DejaVu Serif",serif' font-size="30">→</text><text transform="translate(1401.8,226.9) scale(1,1.085)" font-family='"Liberation Serif","DejaVu Serif",serif' font-size="30">,6</text><text transform="translate(1424.3,229.63) scale(0.831,1.104)" font-family='"DejaVu Sans","Liberation Serif",sans-serif' font-size="30">⟩</text></g>
<path d="M1495.2,125.1h17.6" stroke="#00ffff" stroke-width="2.2"/>
<g fill="#00ffff"><text transform="translate(1528.44,136.2) scale(0.870,1.081)" font-family='"Liberation Serif","DejaVu Serif",serif' font-size="30">|</text><text transform="translate(1536.36,135.95) scale(1.493,1.536)" font-family='"Liberation Serif","DejaVu Serif",serif' font-size="30">←</text><text transform="translate(1574.9,136.1) scale(1,1.085)" font-family='"Liberation Serif","DejaVu Serif",serif' font-size="30">,1</text><text transform="translate(1597.4,138.83) scale(0.831,1.104)" font-family='"DejaVu Sans","Liberation Serif",sans-serif' font-size="30">⟩</text></g>
<path d="M1495.2,170.5h17.6" stroke="#ffa500" stroke-width="2.2"/>
<g fill="#ffa500"><text transform="translate(1528.44,181.6) scale(0.870,1.081)" font-family='"Liberation Serif","DejaVu Serif",serif' font-size="30">|</text><text transform="translate(1536.36,181.35) scale(1.493,1.536)" font-family='"Liberation Serif","DejaVu Serif",serif' font-size="30">←</text><text transform="translate(1574.9,181.5) scale(1,1.085)" font-family='"Liberation Serif","DejaVu Serif",serif' font-size="30">,3</text><text transform="translate(1597.4,184.23) scale(0.831,1.104)" font-family='"DejaVu Sans","Liberation Serif",sans-serif' font-size="30">⟩</text></g>
<path d="M1495.2,215.9h17.6" stroke="#808000" stroke-width="2.2"/>
<g fill="#808000"><text transform="translate(1528.44,227) scale(0.870,1.081)" font-family='"Liberation Serif","DejaVu Serif",serif' font-size="30">|</text><text transform="translate(1536.36,226.75) scale(1.493,1.536)" font-family='"Liberation Serif","DejaVu Serif",serif' font-size="30">←</text><text transform="translate(1574.9,226.9) scale(1,1.085)" font-family='"Liberation Serif","DejaVu Serif",serif' font-size="30">,5</text><text transform="translate(1597.4,229.63) scale(0.831,1.104)" font-family='"DejaVu Sans","Liberation Serif",sans-serif' font-size="30">⟩</text></g>
<g fill="#000"><text transform="translate(1559.76,65.32) scale(1.090,1.125)" font-family='"Liberation Serif","DejaVu Serif",serif' font-size="30">(</text><text transform="translate(1571.88,64.81) scale(1.107,0.990)" font-family='"Liberation Serif","DejaVu Serif",serif' font-size="30" font-weight="bold">b</text><text transform="translate(1589.85,65.32) scale(1.090,1.125)" font-family='"Liberation Serif","DejaVu Serif",serif' font-size="30">)</text></g>
<g>
<clipPath id="clip_c"><rect x="82.4" y="628.1" width="677.6" height="504.8"/></clipPath>
<rect x="82.4" y="628.5" width="677.6" height="504.9" fill="none" stroke="#000" stroke-width="1.3"/>
<g stroke="#000" stroke-width="1.05" fill="none">
<path d="M251.8,1133.4v-15M251.8,628.5v15"/>
<path d="M421.2,1133.4v-15M421.2,628.5v15"/>
<path d="M590.6,1133.4v-15M590.6,628.5v15"/>
<path d="M82.4,1032.42h15"/>
<path d="M82.4,931.44h15"/>
<path d="M82.4,830.46h15"/>
<path d="M82.4,729.48h15"/>
<path d="M760,1070.29h-15"/>
<path d="M760,1007.18h-15"/>
<path d="M760,944.06h-15"/>
<path d="M760,880.95h-15"/>
<path d="M760,817.84h-15"/>
<path d="M760,754.73h-15"/>
<path d="M760,691.61h-15"/>
</g>
<g clip-path="url(#clip_c)" fill="none" stroke-linejoin="round" stroke-width="2.2">
<path d="M166.95,1133.4V628.5" stroke="#000" stroke-width="3.3" stroke-dasharray="3.3 13.8" stroke-dashoffset="0.6"/>
<path d="M82.38,629.4C84.27,629.2 85.91,629.32 87.35,629.69C88.67,630.04 89.83,630.6 90.85,631.32C92.09,632.2 93.14,633.31 94.05,634.58C95.42,636.46 96.49,638.67 97.49,640.91C99.03,644.36 100.39,647.87 101.58,651.42C102.96,655.48 104.13,659.6 105.15,663.76C106.46,669.1 107.53,674.51 108.46,679.96C109.31,684.96 110.05,689.99 110.76,695.03C111.58,700.89 112.36,706.76 113.1,712.63C113.9,718.91 114.65,725.19 115.37,731.48C116.08,737.77 116.75,744.05 117.39,750.34C118.06,756.91 118.69,763.47 119.29,770.05C120.06,778.4 120.77,786.77 121.45,795.13C122.13,803.49 122.76,811.86 123.37,820.22C123.98,828.58 124.56,836.94 125.13,845.29C125.7,853.65 126.25,862 126.79,870.34C127.33,878.68 127.87,887.01 128.41,895.34C128.94,903.54 129.47,911.74 130.01,919.94C130.55,928.26 131.1,936.58 131.65,944.9C132.21,953.23 132.77,961.56 133.35,969.9C133.93,978.24 134.52,986.59 135.13,994.95C135.7,1002.83 136.29,1010.72 136.9,1018.63C137.55,1027.03 138.22,1035.44 138.91,1043.88C139.61,1052.33 140.34,1060.8 141.09,1069.29C141.74,1076.53 142.4,1083.78 143.31,1090.9C144.07,1096.78 144.98,1102.57 146.19,1108.18C147.06,1112.23 148.09,1116.19 149.31,1120.02C150.06,1122.39 150.89,1124.72 151.81,1127C152.34,1128.29 152.89,1129.57 153.71,1130.67C154.37,1131.54 155.19,1132.29 156.31,1132.86C158.26,1133.83 161.1,1134.22 163.2,1133.56C362.23,1133.56 561.27,1133.56 760.3,1133.3" stroke="#ff0000" stroke-width="3.3"/>
<path d="M82.38,1133.56C83.73,1133.62 84.97,1133.57 86.11,1133.42C87.97,1133.18 89.56,1132.67 90.95,1131.94C92.24,1131.27 93.34,1130.4 94.3,1129.39C95.88,1127.7 97.06,1125.61 97.99,1123.28C99.23,1120.17 100.03,1116.64 100.78,1113.11C101.69,1108.82 102.51,1104.54 103.27,1100.27C104.39,1093.93 105.36,1087.61 106.21,1081.3C107.05,1075.02 107.77,1068.75 108.4,1062.49C109.15,1054.99 109.78,1047.49 110.34,1040C110.86,1032.93 111.32,1025.86 111.77,1018.78C112.26,1010.93 112.73,1003.07 113.19,995.21C113.67,986.87 114.13,978.53 114.58,970.17C115.03,961.83 115.46,953.48 115.88,945.12C116.51,932.71 117.11,920.29 117.7,907.87C118.1,899.51 118.5,891.14 118.89,882.77C119.28,874.41 119.67,866.04 120.07,857.68C120.46,849.31 120.86,840.95 121.27,832.59C121.63,825.07 122,817.54 122.38,810.03C122.74,802.93 123.11,795.83 123.49,788.74C124.03,778.43 124.6,768.14 125.2,757.84C125.56,751.59 125.94,745.33 126.32,739.07C126.7,732.81 127.1,726.54 127.5,720.27C127.8,715.66 128.1,711.05 128.65,706.43C129,703.48 129.45,700.52 130.06,697.56C130.42,695.84 130.83,694.11 131.46,692.63C131.64,692.19 131.85,691.77 132.08,691.74C132.35,691.7 132.65,692.2 132.9,692.74C133.58,694.19 133.91,695.93 134.16,697.62C134.62,700.69 134.84,703.6 135.05,706.51C135.38,711.08 135.7,715.65 136,720.23C136.42,726.46 136.81,732.71 137.18,738.96C137.5,744.38 137.8,749.81 138.09,755.24C138.35,760.14 138.61,765.03 138.85,769.94C139.26,778.29 139.65,786.66 140.02,795.02C140.39,803.39 140.74,811.76 141.09,820.13C141.43,828.5 141.76,836.86 142.1,845.23C142.43,853.59 142.76,861.95 143.1,870.29C143.44,878.64 143.79,886.97 144.15,895.29C144.57,907.62 144.99,929.39 145.41,945.06C145.6,953.53 145.84,961.93 146.11,970.29C146.38,978.66 146.7,986.98 147.03,995.28C147.44,1005.18 147.88,1015.05 148.34,1024.94C148.73,1033.24 149.14,1041.55 149.55,1049.9C149.96,1058.25 150.38,1066.63 150.79,1075.07C151.16,1082.67 151.53,1090.33 151.89,1098.04C152.17,1104.07 152.44,1110.14 153.59,1115.79C154.26,1119.06 155.23,1122.19 156.66,1125.09C157.44,1126.68 158.36,1128.19 159.46,1129.62C160.21,1130.61 161.04,1131.55 162.05,1132.25C163.06,1132.95 164.24,1133.42 165.7,1133.43C363.9,1133.43 562.1,1133.43 760.3,1133.3" stroke="#00ff00"/>
<path d="M82.39,1133.56C97.63,1133.56 112.87,1133.56 128.12,1133.56C129.09,1133.08 129.96,1132.52 130.73,1131.9C131.59,1131.21 132.33,1130.45 132.97,1129.62C134.37,1127.82 135.32,1125.7 135.96,1123.38C137.23,1118.82 137.34,1113.47 137.52,1108.19C137.75,1101.18 138.08,1094.3 138.47,1087.5C138.97,1079.02 139.56,1070.67 140.17,1062.37C140.78,1054.08 141.42,1045.83 142,1037.56C142.52,1030.11 143.01,1022.64 143.46,1015.15C143.98,1006.46 144.47,997.75 144.93,989.02C145.37,980.66 145.79,972.28 146.21,963.9C146.63,955.52 147.05,947.13 147.48,938.75C148.12,926.3 148.79,913.86 149.55,901.46C149.93,895.2 150.33,888.94 150.76,882.7C151.11,877.71 151.48,872.72 151.93,867.73C152.28,863.98 152.68,860.22 153.16,856.46C153.51,853.72 153.91,850.97 154.58,848.29C155.01,846.58 155.55,844.89 156.53,843.24C156.96,842.52 157.48,841.81 157.98,841.82C158.46,841.83 158.93,842.51 159.31,843.21C160.1,844.66 160.46,846.17 160.81,847.68C161.48,850.6 162.08,853.52 162.63,856.44C163.33,860.19 163.94,863.95 164.51,867.72C165.14,871.89 165.72,876.07 166.29,880.26C166.86,884.45 167.42,888.64 167.98,892.84C168.54,897.03 169.1,901.23 169.65,905.43C170.29,910.32 170.93,915.22 171.56,920.11C172.37,926.36 173.17,932.61 173.99,938.85C174.8,945.1 175.63,951.35 176.49,957.59C177.35,963.84 178.24,970.09 179.17,976.33C180.35,984.17 181.61,991.99 182.98,999.8C183.86,1004.83 184.78,1009.86 185.77,1014.88C186.92,1020.75 188.15,1026.61 189.47,1032.47C190.81,1038.37 192.23,1044.28 193.77,1050.18C195.22,1055.74 196.77,1061.3 198.62,1066.72C200.23,1071.45 202.06,1076.08 204.24,1080.51C206.13,1084.35 208.29,1088.04 210.79,1091.52C212.79,1094.3 215,1096.94 217.39,1099.42C219.76,1101.88 222.31,1104.18 224.99,1106.3C227.73,1108.46 230.61,1110.42 233.58,1112.15C236.77,1114.02 240.07,1115.61 243.46,1116.99C246.65,1118.29 249.93,1119.39 253.27,1120.33C256.51,1121.24 259.81,1122 263.15,1122.64C266.45,1123.27 269.79,1123.78 273.15,1124.2C276.91,1124.67 280.71,1125.04 284.52,1125.34C286.31,1125.48 288.1,1125.61 289.89,1125.73C294.15,1126 298.42,1126.23 302.67,1126.46C306.9,1126.69 311.11,1126.92 315.31,1127.15C319.49,1127.39 323.66,1127.62 327.82,1127.85C331.97,1128.08 336.11,1128.31 340.25,1128.53C348.52,1128.98 356.77,1129.39 365.05,1129.75C373.32,1130.11 381.62,1130.41 389.98,1130.61C398.34,1130.82 406.76,1130.93 415.29,1130.93C432,1131.09 448.7,1131.23 465.41,1131.3C478.94,1131.36 492.47,1131.39 506,1131.43C514.74,1131.45 523.49,1131.47 532.23,1131.5C608.24,1131.72 684.25,1131.97 760.26,1132.28" stroke="#0000ff"/>
<path d="M82.39,1133.56C106.82,1133.56 131.25,1133.54 155.68,1133.31C157.03,1133.22 158.31,1132.99 159.52,1132.65C161.17,1132.18 162.7,1131.5 164.11,1130.64C165.45,1129.83 166.69,1128.87 167.84,1127.8C169.64,1126.12 171.22,1124.19 172.63,1122.14C174.53,1119.37 176.11,1116.41 177.48,1113.32C179.07,1109.71 180.37,1105.92 181.53,1102.04C182.92,1097.4 184.12,1092.63 185.42,1087.88C186.83,1082.75 188.34,1077.64 189.91,1072.57C191.48,1067.49 193.09,1062.44 194.7,1057.41C196.18,1052.76 197.66,1048.14 199.08,1043.53C200.61,1038.54 202.08,1033.56 203.42,1028.6C204.88,1023.21 206.19,1017.82 207.57,1012.45C208.37,1009.33 209.19,1006.2 210.08,1003.08C211.53,998.03 213.14,992.98 215.12,987.93C216.81,983.61 218.76,979.3 220.83,975.05C222.94,970.71 225.17,966.45 227.36,962.33C229.65,958.02 231.9,953.88 234.46,949.97C236.56,946.74 238.88,943.68 241.61,940.82C244.31,937.98 247.42,935.33 250.79,932.94C253.72,930.85 256.84,928.95 260.07,927.27C263.38,925.54 266.79,924.03 270.21,922.79C273.09,921.74 275.97,920.88 278.86,920.18C280.57,919.77 282.28,919.42 284,919.12C287.39,918.52 290.78,918.14 294.17,917.95C295.29,917.89 296.42,917.84 297.55,917.82C299.95,917.77 302.36,917.81 304.77,917.94C307.2,918.06 309.62,918.28 312.04,918.59C314.91,918.96 317.78,919.45 320.66,920.08C323.59,920.71 326.52,921.48 329.46,922.34C332.83,923.33 336.22,924.45 339.6,925.62C343.01,926.79 346.42,928.03 349.84,929.25C353.27,930.48 356.7,931.7 360.13,932.83C363.55,933.97 366.97,935.03 370.4,936.02C373.78,937 377.16,937.92 380.54,938.78C383.89,939.64 387.24,940.45 390.6,941.23C393.93,942 397.27,942.73 400.61,943.44C403.94,944.14 407.26,944.81 410.59,945.46C413.91,946.1 417.22,946.72 420.54,947.32C423.84,947.92 427.15,948.5 430.46,949.07C433.77,949.63 437.09,950.18 440.41,950.73C444.55,951.4 448.69,952.07 452.84,952.72C456.99,953.38 461.15,954.04 465.31,954.7C469.47,955.36 473.63,956.03 477.79,956.7C481.97,957.37 486.15,958.05 490.33,958.72C495.53,959.56 500.74,960.4 505.95,961.24C514.69,962.64 523.45,964.04 532.21,965.39C540.55,966.68 548.9,967.93 557.26,969.13C565.61,970.33 573.96,971.47 582.32,972.54C590.67,973.61 599.03,974.6 607.39,975.5C615.74,976.39 624.09,977.19 632.45,977.91C640.8,978.63 649.15,979.28 657.51,979.87C665.86,980.46 674.22,980.99 682.57,981.49C690.92,981.99 699.27,982.45 707.63,982.9C715.98,983.35 724.33,983.78 732.69,984.21C741.88,984.69 751.07,985.18 760.26,985.69" stroke="#ff00ff"/>
<path d="M82.39,1133.56C112.66,1133.56 142.94,1133.54 173.22,1133.31C174.92,1133.1 176.59,1132.79 178.22,1132.41C180.71,1131.82 183.12,1131.04 185.46,1130.09C187.96,1129.08 190.38,1127.88 192.72,1126.54C195.27,1125.07 197.73,1123.42 200.11,1121.64C202.8,1119.63 205.38,1117.46 207.88,1115.18C210.6,1112.71 213.21,1110.11 215.75,1107.42C218.5,1104.51 221.15,1101.48 223.74,1098.38C226.81,1094.69 229.78,1090.9 232.69,1087.05C235.61,1083.2 238.46,1079.3 241.31,1075.4C244.15,1071.51 246.98,1067.61 249.84,1063.77C252.7,1059.93 255.58,1056.15 258.52,1052.43C261.25,1048.95 264.03,1045.53 266.86,1042.17C269.69,1038.8 272.57,1035.49 275.53,1032.22C278.38,1029.08 281.29,1025.98 284.28,1022.94C287.33,1019.84 290.45,1016.8 293.66,1013.81C294.91,1012.65 296.17,1011.49 297.45,1010.35C300.01,1008.06 302.63,1005.81 305.3,1003.64C307.81,1001.6 310.36,999.62 312.96,997.72C315.85,995.61 318.8,993.6 321.81,991.71C324.67,989.92 327.58,988.25 330.53,986.71C333.74,985.05 337,983.55 340.31,982.19C343.55,980.85 346.84,979.64 350.17,978.53C353.41,977.45 356.69,976.47 360,975.56C363.28,974.65 366.59,973.81 369.92,973.02C373.23,972.23 376.55,971.48 379.89,970.76C383.22,970.03 386.56,969.33 389.91,968.65C393.26,967.96 396.63,967.3 400.01,966.66C403.37,966.02 406.74,965.41 410.12,964.82C413.5,964.23 416.89,963.67 420.28,963.14C423.65,962.62 427.03,962.12 430.4,961.65C433.77,961.19 437.13,960.76 440.5,960.35C444.68,959.85 448.87,959.39 453.05,958.98C457.23,958.56 461.4,958.19 465.58,957.85C469.74,957.51 473.9,957.21 478.06,956.94C482.21,956.66 486.37,956.42 490.52,956.2C495.67,955.93 500.83,955.69 505.98,955.48C514.69,955.13 523.4,954.86 532.13,954.62C540.47,954.38 548.82,954.18 557.19,953.96C565.56,953.74 573.94,953.5 582.35,953.21C599.06,952.86 615.76,952.66 632.47,952.46C649.17,952.26 665.88,952.06 682.58,951.96C708.48,951.79 734.37,951.64 760.26,951.61" stroke="#9400d3"/>
<path d="M82.39,1133.56C133.13,1133.56 183.87,1133.55 234.61,1133.31C236.72,1132.7 238.83,1132.16 240.94,1131.67C244.25,1130.91 247.56,1130.27 250.87,1129.7C255,1129 259.13,1128.41 263.26,1127.84C268.22,1127.16 273.18,1126.5 278.14,1125.7C281.9,1125.1 285.66,1124.41 289.43,1123.66C293.63,1122.83 297.83,1121.93 302.03,1120.97C306.24,1120.02 310.46,1119.02 314.67,1118C318.89,1116.99 323.11,1115.96 327.33,1114.94C331.53,1113.92 335.73,1112.92 339.94,1111.94C344.16,1110.95 348.39,1109.97 352.62,1109.01C356.82,1108.06 361.04,1107.13 365.25,1106.21C369.45,1105.3 373.66,1104.41 377.87,1103.54C382.06,1102.67 386.25,1101.82 390.44,1101C394.64,1100.18 398.83,1099.38 403.03,1098.61C407.21,1097.85 411.38,1097.11 415.56,1096.39C419.73,1095.68 423.91,1095 428.08,1094.34C432.25,1093.69 436.42,1093.07 440.59,1092.47C444.76,1091.88 448.93,1091.31 453.1,1090.77C457.25,1090.22 461.41,1089.71 465.57,1089.21C469.72,1088.71 473.87,1088.23 478.03,1087.77C482.18,1087.31 486.33,1086.86 490.49,1086.43C495.64,1085.9 500.79,1085.38 505.94,1084.89C514.65,1084.04 523.37,1083.24 532.1,1082.45C540.46,1081.7 548.82,1080.95 557.19,1080.2C565.53,1079.44 573.87,1078.67 582.22,1077.9C590.57,1077.12 598.92,1076.35 607.28,1075.59C615.63,1074.82 623.99,1074.07 632.34,1073.34C640.7,1072.61 649.05,1071.91 657.41,1071.23C665.76,1070.56 674.12,1069.93 682.48,1069.34C690.84,1068.76 699.2,1068.22 707.57,1067.74C715.93,1067.26 724.3,1066.84 732.66,1066.49C741.86,1066.11 751.06,1065.82 760.26,1065.63" stroke="#008000"/>
<path d="M82.39,1133.56C95.12,1133.45 107.86,1133.27 120.6,1133.06C135.63,1132.81 150.67,1132.29 165.7,1132.06C179.48,1131.84 193.27,1131.68 207.05,1131.55C236.03,1131.28 265.02,1131.26 294,1130.93C317.72,1130.65 341.45,1129.32 365.17,1129.05C381.88,1128.86 398.58,1128.8 415.29,1128.67C432,1128.55 448.7,1128.41 465.41,1128.3C478.94,1128.21 492.47,1128.13 506,1128.05C531.45,1127.88 556.9,1127.69 582.35,1127.54C641.65,1127.2 700.96,1126.89 760.26,1126.68" stroke="#00ffff"/>
<path d="M82.39,1133.56C89.13,1134.18 95.88,1134.14 102.64,1133.63C109.21,1133.13 115.79,1132.19 122.38,1130.98C125.76,1130.35 129.15,1129.66 132.54,1128.91C136.77,1127.98 141.01,1126.97 145.25,1125.93C149.5,1124.89 153.74,1123.81 157.99,1122.75C162.24,1121.69 166.49,1120.65 170.74,1119.64C174.97,1118.63 179.21,1117.67 183.45,1116.77C187.66,1115.88 191.87,1115.05 196.09,1114.32C200.27,1113.59 204.46,1112.95 208.64,1112.42C212.81,1111.9 216.97,1111.49 221.14,1111.18C225.29,1110.86 229.45,1110.64 233.6,1110.49C237.75,1110.35 241.9,1110.27 246.05,1110.26C250.2,1110.24 254.36,1110.27 258.51,1110.34C262.67,1110.41 266.83,1110.52 270.99,1110.64C275.15,1110.76 279.31,1110.9 283.48,1111.04C289.81,1111.24 296.14,1111.44 302.48,1111.56C306.65,1111.64 310.81,1111.69 314.98,1111.68C319.15,1111.68 323.32,1111.62 327.49,1111.53C331.66,1111.43 335.84,1111.29 340.01,1111.13C344.19,1110.97 348.37,1110.78 352.55,1110.57C356.73,1110.36 360.92,1110.14 365.1,1109.92C369.29,1109.69 373.47,1109.46 377.66,1109.24C381.84,1109.02 386.02,1108.81 390.2,1108.62C394.38,1108.43 398.56,1108.26 402.73,1108.13C406.91,1107.99 411.09,1107.89 415.27,1107.83C419.45,1107.77 423.62,1107.76 427.8,1107.78C431.98,1107.8 436.16,1107.84 440.34,1107.9C444.52,1107.96 448.7,1108.04 452.88,1108.11C457.06,1108.18 461.23,1108.25 465.41,1108.3C469.59,1108.35 473.77,1108.38 477.95,1108.4C482.13,1108.41 486.3,1108.41 490.48,1108.38C495.66,1108.35 500.84,1108.29 506.02,1108.2C514.76,1108.05 523.5,1107.81 532.23,1107.47C548.94,1107.35 565.64,1107.37 582.35,1107.28C599.06,1107.19 615.76,1106.91 632.47,1106.84C675.07,1106.64 717.66,1106.47 760.26,1106.47" stroke="#ffa500"/>
<path d="M82.39,1133.56C86.98,1133.49 91.58,1133.03 96.19,1132.26C99.45,1131.72 102.71,1131.03 105.98,1130.23C109.79,1129.29 113.61,1128.2 117.43,1127.02C121.72,1125.7 126.02,1124.25 130.33,1122.77C134.59,1121.31 138.85,1119.82 143.12,1118.37C147.42,1116.91 151.72,1115.5 156.02,1114.17C160.25,1112.87 164.48,1111.65 168.71,1110.55C172.9,1109.46 177.1,1108.48 181.31,1107.65C185.44,1106.83 189.58,1106.16 193.73,1105.66C197.84,1105.16 201.95,1104.84 206.07,1104.66C209.36,1104.52 212.65,1104.47 215.95,1104.5C219.24,1104.52 222.54,1104.63 225.84,1104.8C229.97,1105 234.11,1105.31 238.26,1105.69C242.41,1106.07 246.58,1106.52 250.74,1107.01C254.92,1107.5 259.09,1108.03 263.27,1108.57C267.44,1109.11 271.62,1109.67 275.8,1110.21C279.99,1110.75 284.18,1111.27 288.37,1111.75C292.2,1112.18 296.04,1112.58 299.89,1112.92C303.24,1113.21 306.6,1113.46 309.96,1113.67C314.13,1113.93 318.3,1114.13 322.48,1114.27C326.65,1114.42 330.82,1114.52 334.99,1114.58C339.17,1114.64 343.34,1114.67 347.52,1114.67C351.7,1114.67 355.88,1114.65 360.06,1114.61C364.24,1114.58 368.42,1114.53 372.61,1114.48C376.79,1114.44 380.97,1114.39 385.16,1114.36C389.34,1114.33 393.52,1114.31 397.71,1114.31C401.89,1114.32 406.08,1114.35 410.27,1114.41C414.46,1114.48 418.65,1114.59 422.84,1114.72C427.03,1114.85 431.22,1115 435.41,1115.17C439.6,1115.33 443.79,1115.51 447.98,1115.69C452.16,1115.87 456.35,1116.04 460.53,1116.2C464.72,1116.36 468.9,1116.51 473.08,1116.63C477.26,1116.74 481.44,1116.83 485.61,1116.91C492.46,1117.03 499.31,1117.1 506.15,1117.16C513.22,1117.22 520.28,1117.27 527.34,1117.35C537.34,1117.47 547.32,1117.66 557.29,1118.04C574,1118.11 590.7,1118.1 607.41,1118.15C632.47,1118.22 657.52,1118.34 682.58,1118.43C708.48,1118.54 734.37,1118.64 760.26,1118.75" stroke="#808000"/>
</g>
<g fill="#000">
<text transform="translate(82.4,1161.7) scale(1,1.085)" font-family='"Liberation Serif","DejaVu Serif",serif' font-size="30" text-anchor="middle">0</text>
<text transform="translate(251.8,1161.7) scale(1,1.085)" font-family='"Liberation Serif","DejaVu Serif",serif' font-size="30" text-anchor="middle">200</text>
<text transform="translate(421.2,1161.7) scale(1,1.085)" font-family='"Liberation Serif","DejaVu Serif",serif' font-size="30" text-anchor="middle">400</text>
<text transform="translate(590.6,1161.7) scale(1,1.085)" font-family='"Liberation Serif","DejaVu Serif",serif' font-size="30" text-anchor="middle">600</text>
<text transform="translate(760,1161.7) scale(1,1.085)" font-family='"Liberation Serif","DejaVu Serif",serif' font-size="30" text-anchor="middle">800</text>
<text transform="translate(75.5,1144.5) scale(1,1.085)" font-family='"Liberation Serif","DejaVu Serif",serif' font-size="30" text-anchor="end">0.0</text>
<text transform="translate(75.5,1043.52) scale(1,1.085)" font-family='"Liberation Serif","DejaVu Serif",serif' font-size="30" text-anchor="end">0.2</text>
<text transform="translate(75.5,942.54) scale(1,1.085)" font-family='"Liberation Serif","DejaVu Serif",serif' font-size="30" text-anchor="end">0.4</text>
<text transform="translate(75.5,841.56) scale(1,1.085)" font-family='"Liberation Serif","DejaVu Serif",serif' font-size="30" text-anchor="end">0.6</text>
<text transform="translate(75.5,740.58) scale(1,1.085)" font-family='"Liberation Serif","DejaVu Serif",serif' font-size="30" text-anchor="end">0.8</text>
<text transform="translate(75.5,639.6) scale(1,1.085)" font-family='"Liberation Serif","DejaVu Serif",serif' font-size="30" text-anchor="end">1.0</text>
<text transform="translate(766.5,1144.5) scale(1,1.085)" font-family='"Liberation Serif","DejaVu Serif",serif' font-size="30">0</text>
<text transform="translate(766.5,1018.28) scale(1,1.085)" font-family='"Liberation Serif","DejaVu Serif",serif' font-size="30">0.1</text>
<text transform="translate(766.5,892.05) scale(1,1.085)" font-family='"Liberation Serif","DejaVu Serif",serif' font-size="30">0.2</text>
<text transform="translate(766.5,765.83) scale(1,1.085)" font-family='"Liberation Serif","DejaVu Serif",serif' font-size="30">0.3</text>
<text transform="translate(766.5,639.6) scale(1,1.085)" font-family='"Liberation Serif","DejaVu Serif",serif' font-size="30">0.4</text>
</g>
<g fill="#000"><text transform="translate(391.38,1197) scale(1.017,1.017)" font-family='"Liberation Serif","DejaVu Serif",serif' font-size="30" font-style="italic">v</text><text transform="translate(405.43,1196.97) scale(1.112,1.112)" font-family='"Liberation Serif","DejaVu Serif",serif' font-size="30" font-style="italic">t</text><text transform="translate(419.3,1204.16) scale(1.356,1.485)" font-family='"Liberation Serif","DejaVu Serif",serif' font-size="30">/</text><text transform="translate(431.24,1197.02) scale(0.968,0.968)" font-family='"Liberation Serif","DejaVu Serif",serif' font-size="30" font-style="italic">ω</text></g>
<g fill="#000" transform="translate(22.9,880.95) rotate(-90)"><text transform="translate(-50.23,0) scale(1.049,1.049)" font-family='"Liberation Serif","DejaVu Serif",serif' font-size="30" font-style="italic">P</text><text transform="translate(-28.17,0.32) scale(1.194,1.125)" font-family='"Liberation Serif","DejaVu Serif",serif' font-size="30">(</text><text transform="translate(-24.7,-0.25) scale(1.487,1.536)" font-family='"Liberation Serif","DejaVu Serif",serif' font-size="30">→</text><text transform="translate(13.53,0.45) scale(0.851,1.116)" font-family='"Liberation Serif","DejaVu Serif",serif' font-size="30">,</text><text transform="translate(25.87,0) scale(0.991,1.037)" font-family='"Liberation Serif","DejaVu Serif",serif' font-size="30">0</text><text transform="translate(38.55,0.32) scale(1.194,1.125)" font-family='"Liberation Serif","DejaVu Serif",serif' font-size="30">)</text></g>
<g fill="#000" transform="translate(834.9,880.95) rotate(-90)"><text transform="translate(-44.53,0) scale(1.049,1.049)" font-family='"Liberation Serif","DejaVu Serif",serif' font-size="30" font-style="italic">P</text><text transform="translate(-23.17,0.32) scale(1.194,1.125)" font-family='"Liberation Serif","DejaVu Serif",serif' font-size="30">(</text><text transform="translate(-12.32,-0.48) scale(0.967,0.967)" font-family='"Liberation Serif","DejaVu Serif",serif' font-size="30" font-style="italic">γ</text><text transform="translate(4.83,0.45) scale(0.851,1.116)" font-family='"Liberation Serif","DejaVu Serif",serif' font-size="30">,</text><text transform="translate(19.17,0) scale(0.962,0.962)" font-family='"Liberation Serif","DejaVu Serif",serif' font-size="30" font-style="italic">n</text><text transform="translate(33.05,0.32) scale(1.194,1.125)" font-family='"Liberation Serif","DejaVu Serif",serif' font-size="30">)</text></g>
</g>
<rect x="178.8" y="648.8" width="141.5" height="54.6" rx="4.3" fill="#fff" fill-opacity="0.8" stroke="#ccc" stroke-width="2"/>
<path d="M189.3,673h18.4" stroke="#ff0000" stroke-width="3.3"/>
<g fill="#ff0000"><text transform="translate(222.54,684.1) scale(0.870,1.081)" font-family='"Liberation Serif","DejaVu Serif",serif' font-size="30">|</text><text transform="translate(230.46,683.85) scale(1.493,1.536)" font-family='"Liberation Serif","DejaVu Serif",serif' font-size="30">→</text><text transform="translate(269.9,684) scale(1,1.085)" font-family='"Liberation Serif","DejaVu Serif",serif' font-size="30">,</text><text transform="translate(281.4,684) scale(1,1.085)" font-family='"Liberation Serif","DejaVu Serif",serif' font-size="30">0</text><text transform="translate(297,686.73) scale(0.831,1.104)" font-family='"DejaVu Sans","Liberation Serif",sans-serif' font-size="30">⟩</text></g>
<rect x="385.4" y="709.4" width="338.8" height="190.3" rx="4.3" fill="#fff" fill-opacity="0.8" stroke="#ccc" stroke-width="2"/>
<path d="M396.3,733.6h17.6" stroke="#00ff00" stroke-width="2.2"/>
<g fill="#00ff00"><text transform="translate(429.54,744.7) scale(0.870,1.081)" font-family='"Liberation Serif","DejaVu Serif",serif' font-size="30">|</text><text transform="translate(437.46,744.45) scale(1.493,1.536)" font-family='"Liberation Serif","DejaVu Serif",serif' font-size="30">→</text><text transform="translate(476,744.6) scale(1,1.085)" font-family='"Liberation Serif","DejaVu Serif",serif' font-size="30">,2</text><text transform="translate(498.5,747.33) scale(0.831,1.104)" font-family='"DejaVu Sans","Liberation Serif",sans-serif' font-size="30">⟩</text></g>
<path d="M396.3,779.1h17.6" stroke="#0000ff" stroke-width="2.2"/>
<g fill="#0000ff"><text transform="translate(429.54,790.2) scale(0.870,1.081)" font-family='"Liberation Serif","DejaVu Serif",serif' font-size="30">|</text><text transform="translate(437.46,789.95) scale(1.493,1.536)" font-family='"Liberation Serif","DejaVu Serif",serif' font-size="30">→</text><text transform="translate(476,790.1) scale(1,1.085)" font-family='"Liberation Serif","DejaVu Serif",serif' font-size="30">,10</text><text transform="translate(513.5,792.83) scale(0.831,1.104)" font-family='"DejaVu Sans","Liberation Serif",sans-serif' font-size="30">⟩</text></g>
<path d="M396.3,824.6h17.6" stroke="#ff00ff" stroke-width="2.2"/>
<g fill="#ff00ff"><text transform="translate(429.54,835.7) scale(0.870,1.081)" font-family='"Liberation Serif","DejaVu Serif",serif' font-size="30">|</text><text transform="translate(437.46,835.45) scale(1.493,1.536)" font-family='"Liberation Serif","DejaVu Serif",serif' font-size="30">→</text><text transform="translate(476,835.6) scale(1,1.085)" font-family='"Liberation Serif","DejaVu Serif",serif' font-size="30">,20</text><text transform="translate(513.5,838.33) scale(0.831,1.104)" font-family='"DejaVu Sans","Liberation Serif",sans-serif' font-size="30">⟩</text></g>
<path d="M396.3,870.1h17.6" stroke="#9400d3" stroke-width="2.2"/>
<g fill="#9400d3"><text transform="translate(429.54,881.2) scale(0.870,1.081)" font-family='"Liberation Serif","DejaVu Serif",serif' font-size="30">|</text><text transform="translate(437.46,880.95) scale(1.493,1.536)" font-family='"Liberation Serif","DejaVu Serif",serif' font-size="30">→</text><text transform="translate(476,881.1) scale(1,1.085)" font-family='"Liberation Serif","DejaVu Serif",serif' font-size="30">,24</text><text transform="translate(513.5,883.83) scale(0.831,1.104)" font-family='"DejaVu Sans","Liberation Serif",sans-serif' font-size="30">⟩</text></g>
<path d="M584.2,733.6h17.6" stroke="#008000" stroke-width="2.2"/>
<g fill="#008000"><text transform="translate(617.44,744.7) scale(0.870,1.081)" font-family='"Liberation Serif","DejaVu Serif",serif' font-size="30">|</text><text transform="translate(625.36,744.45) scale(1.493,1.536)" font-family='"Liberation Serif","DejaVu Serif",serif' font-size="30">→</text><text transform="translate(663.9,744.6) scale(1,1.085)" font-family='"Liberation Serif","DejaVu Serif",serif' font-size="30">,30</text><text transform="translate(701.4,747.33) scale(0.831,1.104)" font-family='"DejaVu Sans","Liberation Serif",sans-serif' font-size="30">⟩</text></g>
<path d="M584.2,779.1h17.6" stroke="#00ffff" stroke-width="2.2"/>
<g fill="#00ffff"><text transform="translate(617.44,790.2) scale(0.870,1.081)" font-family='"Liberation Serif","DejaVu Serif",serif' font-size="30">|</text><text transform="translate(625.36,789.95) scale(1.493,1.536)" font-family='"Liberation Serif","DejaVu Serif",serif' font-size="30">←</text><text transform="translate(663.9,790.1) scale(1,1.085)" font-family='"Liberation Serif","DejaVu Serif",serif' font-size="30">,17</text><text transform="translate(701.4,792.83) scale(0.831,1.104)" font-family='"DejaVu Sans","Liberation Serif",sans-serif' font-size="30">⟩</text></g>
<path d="M584.2,824.6h17.6" stroke="#ffa500" stroke-width="2.2"/>
<g fill="#ffa500"><text transform="translate(617.44,835.7) scale(0.870,1.081)" font-family='"Liberation Serif","DejaVu Serif",serif' font-size="30">|</text><text transform="translate(625.36,835.45) scale(1.493,1.536)" font-family='"Liberation Serif","DejaVu Serif",serif' font-size="30">←</text><text transform="translate(663.9,835.6) scale(1,1.085)" font-family='"Liberation Serif","DejaVu Serif",serif' font-size="30">,25</text><text transform="translate(701.4,838.33) scale(0.831,1.104)" font-family='"DejaVu Sans","Liberation Serif",sans-serif' font-size="30">⟩</text></g>
<path d="M584.2,870.1h17.6" stroke="#808000" stroke-width="2.2"/>
<g fill="#808000"><text transform="translate(617.44,881.2) scale(0.870,1.081)" font-family='"Liberation Serif","DejaVu Serif",serif' font-size="30">|</text><text transform="translate(625.36,880.95) scale(1.493,1.536)" font-family='"Liberation Serif","DejaVu Serif",serif' font-size="30">←</text><text transform="translate(663.9,881.1) scale(1,1.085)" font-family='"Liberation Serif","DejaVu Serif",serif' font-size="30">,31</text><text transform="translate(701.4,883.83) scale(0.831,1.104)" font-family='"DejaVu Sans","Liberation Serif",sans-serif' font-size="30">⟩</text></g>
<g fill="#000"><text transform="translate(676.96,679.82) scale(1.090,1.125)" font-family='"Liberation Serif","DejaVu Serif",serif' font-size="30">(</text><text transform="translate(688.28,679.33) scale(1.187,0.978)" font-family='"Liberation Serif","DejaVu Serif",serif' font-size="30" font-weight="bold">c</text><text transform="translate(704.05,679.82) scale(1.090,1.125)" font-family='"Liberation Serif","DejaVu Serif",serif' font-size="30">)</text></g>
<g>
<clipPath id="clip_d"><rect x="965" y="628.1" width="677.6" height="504.8"/></clipPath>
<rect x="965" y="628.5" width="677.6" height="504.9" fill="none" stroke="#000" stroke-width="1.3"/>
<g stroke="#000" stroke-width="1.05" fill="none">
<path d="M1134.4,1133.4v-15M1134.4,628.5v15"/>
<path d="M1303.8,1133.4v-15M1303.8,628.5v15"/>
<path d="M1473.2,1133.4v-15M1473.2,628.5v15"/>
<path d="M965,1032.42h15"/>
<path d="M965,931.44h15"/>
<path d="M965,830.46h15"/>
<path d="M965,729.48h15"/>
<path d="M1642.6,1070.29h-15"/>
<path d="M1642.6,1007.18h-15"/>
<path d="M1642.6,944.06h-15"/>
<path d="M1642.6,880.95h-15"/>
<path d="M1642.6,817.84h-15"/>
<path d="M1642.6,754.73h-15"/>
<path d="M1642.6,691.61h-15"/>
</g>
<g clip-path="url(#clip_d)" fill="none" stroke-linejoin="round" stroke-width="2.2">
<path d="M1236.1,1133.4V628.5" stroke="#000" stroke-width="3.3" stroke-dasharray="3.3 13.8" stroke-dashoffset="0.6"/>
<path d="M965.26,629.4C968.87,629.51 972.32,629.36 975.57,629.47C977.67,629.53 979.68,629.7 981.6,630.12C983.21,630.46 984.74,630.98 986.21,631.74C987.86,632.6 989.41,633.77 990.88,635.13C992.75,636.86 994.47,638.9 996.05,640.98C998.04,643.62 999.81,646.32 1001.38,649.09C1003.42,652.65 1005.14,656.31 1006.67,660.05C1008.48,664.5 1010.01,669.05 1011.43,673.68C1012.95,678.62 1014.36,683.65 1015.66,688.73C1017.05,694.15 1018.32,699.63 1019.5,705.11C1020.67,710.56 1021.74,716 1022.73,721.46C1023.8,727.32 1024.78,733.19 1025.69,739.06C1026.53,744.49 1027.31,749.93 1028.05,755.37C1028.71,760.25 1029.33,765.13 1029.94,770.01C1030.97,778.35 1031.93,786.7 1032.89,795.05C1033.85,803.41 1034.8,811.78 1035.75,820.14C1036.7,828.51 1037.64,836.88 1038.59,845.24C1039.53,853.61 1040.48,861.98 1041.43,870.34C1042.38,878.7 1043.33,887.06 1044.3,895.41C1045.24,903.61 1046.19,911.8 1047.15,919.99C1047.88,926.25 1048.61,932.5 1049.35,938.75C1050.08,945.01 1050.82,951.26 1051.56,957.52C1052.3,963.78 1053.04,970.04 1053.78,976.3C1054.53,982.56 1055.27,988.82 1056.01,995.08C1056.84,1002.08 1057.66,1009.08 1058.52,1016.09C1059.29,1022.36 1060.09,1028.63 1060.93,1034.91C1061.73,1040.78 1062.56,1046.65 1063.46,1052.52C1064.37,1058.43 1065.34,1064.35 1066.4,1070.27C1067.38,1075.78 1068.44,1081.29 1069.59,1086.82C1070.48,1091.12 1071.43,1095.42 1072.58,1099.61C1073.63,1103.46 1074.85,1107.22 1076.34,1110.78C1077.54,1113.64 1078.91,1116.38 1080.52,1118.94C1081.75,1120.91 1083.12,1122.77 1084.64,1124.51C1085.76,1125.78 1086.95,1126.98 1088.25,1128.1C1089.61,1129.29 1091.08,1130.4 1092.64,1131.31C1094.07,1132.13 1095.58,1132.79 1097.16,1133.2C1099.5,1133.79 1101.99,1133.82 1104.62,1133.7C1107.23,1133.59 1109.99,1133.32 1112.85,1133.31C1289.44,1133.31 1466.02,1133.31 1642.6,1133.4" stroke="#ff0000" stroke-width="3.3"/>
<path d="M965.26,1133.43C967.44,1134.2 969.89,1134.44 972.4,1134.24C975.01,1134.04 977.68,1133.36 980.17,1132.32C982.48,1131.36 984.63,1130.08 986.44,1128.57C988.39,1126.94 989.94,1125.05 991.23,1122.99C993.01,1120.16 994.3,1117.02 995.49,1113.83C996.99,1109.81 998.32,1105.72 999.51,1101.58C1001.02,1096.28 1002.32,1090.9 1003.44,1085.45C1004.65,1079.65 1005.66,1073.78 1006.57,1067.87C1007.48,1061.99 1008.28,1056.08 1009.04,1050.17C1009.81,1044.27 1010.54,1038.38 1011.25,1032.5C1011.96,1026.63 1012.64,1020.76 1013.3,1014.89C1014.04,1008.29 1014.75,1001.69 1015.44,995.1C1016.09,988.84 1016.72,982.59 1017.33,976.33C1017.94,970.08 1018.53,963.82 1019.11,957.57C1019.69,951.32 1020.26,945.06 1020.81,938.8C1021.34,932.88 1021.86,926.96 1022.37,921.03C1022.93,914.57 1023.48,908.1 1024.04,901.64C1024.57,895.37 1025.11,889.09 1025.64,882.82C1026.17,876.54 1026.7,870.26 1027.23,863.98C1027.94,855.62 1028.63,847.25 1029.33,838.89C1030.02,830.53 1030.71,822.16 1031.39,813.8C1032.07,805.44 1032.75,797.08 1033.41,788.73C1033.88,782.79 1034.35,776.85 1034.82,770.92C1035.22,765.7 1035.63,760.49 1036.03,755.28C1036.6,747.77 1037.17,740.28 1037.73,732.79C1038.23,726.12 1038.72,719.47 1039.3,712.81C1039.8,706.98 1040.38,701.14 1041.1,695.3C1041.71,690.27 1042.42,685.25 1043.28,680.2C1043.85,676.81 1044.5,673.41 1045.21,670.01C1045.72,667.62 1046.26,665.23 1047.21,663.09C1047.73,661.92 1048.37,660.83 1049.19,659.85C1049.57,659.39 1049.99,658.95 1050.42,658.97C1050.86,658.98 1051.31,659.49 1051.72,660.02C1052.67,661.23 1053.39,662.51 1053.96,663.84C1054.96,666.16 1055.49,668.62 1055.96,671.17C1056.65,674.92 1057.19,678.85 1057.69,682.72C1058.37,687.86 1058.99,692.91 1059.56,697.91C1060.22,703.74 1060.82,709.51 1061.36,715.3C1061.9,721.08 1062.39,726.89 1062.83,732.71C1063.31,738.95 1063.74,745.2 1064.14,751.46C1064.54,757.6 1064.91,763.75 1065.27,769.9C1065.64,776.18 1066.01,782.46 1066.38,788.74C1066.88,797.1 1067.41,805.47 1067.95,813.83C1068.49,822.2 1069.05,830.56 1069.62,838.93C1070.2,847.29 1070.78,855.65 1071.38,864C1071.83,870.28 1072.29,876.55 1072.75,882.82C1073.21,889.09 1073.68,895.36 1074.14,901.63C1074.6,907.77 1075.06,913.91 1075.53,920.04C1076,926.31 1076.47,932.57 1076.94,938.83C1077.42,945.09 1077.89,951.35 1078.36,957.6C1078.83,963.86 1079.3,970.12 1079.78,976.37C1080.27,982.63 1080.76,988.88 1081.28,995.14C1081.86,1002.14 1082.48,1009.14 1083.14,1016.15C1083.74,1022.41 1084.38,1028.68 1085.07,1034.94C1085.72,1040.8 1086.41,1046.66 1087.17,1052.52C1087.93,1058.39 1088.75,1064.26 1089.64,1070.14C1090.47,1075.6 1091.36,1081.06 1092.32,1086.53C1093.06,1090.77 1093.85,1095.01 1094.69,1099.25C1095.36,1102.68 1096.07,1106.1 1096.97,1109.42C1097.66,1111.97 1098.47,1114.44 1099.47,1116.8C1100.42,1119.06 1101.55,1121.2 1102.92,1123.2C1103.89,1124.62 1104.98,1125.96 1106.22,1127.21C1107.35,1128.34 1108.59,1129.4 1109.93,1130.33C1111.21,1131.22 1112.58,1132 1114.02,1132.61C1115.57,1133.28 1117.2,1133.76 1118.87,1134C1121.38,1134.36 1123.99,1134.19 1126.64,1133.31C1298.62,1133.31 1470.61,1133.31 1642.6,1133.4" stroke="#00ff00"/>
<path d="M965,1133.4C998.83,1133.4 1032.66,1133.39 1066.5,1133.31C1068.15,1133.13 1070.25,1133.14 1072.48,1133.09C1074.72,1133.04 1077.1,1132.94 1079.3,1132.55C1081.14,1132.23 1082.86,1131.7 1084.27,1130.82C1085.68,1129.94 1086.79,1128.71 1087.69,1127.28C1088.97,1125.24 1089.84,1122.78 1090.66,1120.32C1091.77,1116.93 1092.76,1113.55 1093.65,1110.15C1094.84,1105.58 1095.85,1101.01 1096.72,1096.43C1097.74,1091.05 1098.57,1085.66 1099.3,1080.25C1100.09,1074.45 1100.75,1068.62 1101.41,1062.76C1102.06,1056.9 1102.71,1051.01 1103.34,1045.11C1103.93,1039.64 1104.51,1034.16 1105.09,1028.69C1105.66,1023.22 1106.23,1017.76 1106.79,1012.33C1107.39,1006.57 1107.99,1000.84 1108.58,995.17C1109.01,991.04 1109.44,986.94 1110.18,982.75C1110.7,979.78 1111.38,976.77 1112.32,973.67C1112.75,972.25 1113.23,970.82 1114.07,970.14C1114.4,969.87 1114.78,969.72 1115.24,969.74C1115.73,969.76 1116.31,969.97 1116.75,970.3C1117.75,971.04 1118.12,972.39 1118.46,973.72C1119.26,976.81 1119.91,979.8 1120.45,982.75C1121.21,986.91 1121.76,990.99 1122.2,995.14C1122.8,1000.83 1123.19,1006.65 1123.56,1012.48C1123.9,1017.98 1124.23,1023.5 1124.71,1028.95C1125.27,1035.24 1126.01,1041.43 1126.82,1047.61C1127.63,1053.81 1128.5,1059.99 1129.28,1066.26C1130.07,1072.54 1130.78,1078.9 1131.62,1085.23C1132.3,1090.32 1133.06,1095.4 1134.02,1100.4C1134.83,1104.61 1135.77,1108.77 1136.92,1112.84C1137.8,1115.96 1138.8,1119.03 1139.96,1122.03C1140.78,1124.17 1141.67,1126.28 1142.98,1128.11C1143.9,1129.39 1145.02,1130.54 1146.45,1131.46C1147.99,1132.46 1149.89,1133.2 1151.78,1133.59C1154.05,1134.06 1156.32,1134.02 1157.96,1133.31C1319.51,1133.31 1481.05,1133.31 1642.6,1133.4" stroke="#0000ff"/>
<path d="M965,1133.4C1027.23,1133.4 1089.46,1133.38 1151.69,1133.18C1153.62,1133.68 1155.16,1133.56 1156.41,1133.03C1157.48,1132.57 1158.33,1131.82 1159.05,1130.89C1160.02,1129.63 1160.73,1128.05 1161.33,1126.45C1162.55,1123.21 1163.34,1119.91 1163.9,1116.56C1164.68,1112 1165.03,1107.37 1165.49,1102.75C1165.99,1097.71 1166.62,1092.68 1167.32,1087.68C1167.84,1083.92 1168.39,1080.18 1168.96,1076.47C1169.34,1073.95 1169.73,1071.45 1170.9,1068.79C1171.37,1067.71 1171.97,1066.6 1172.59,1066.6C1173.21,1066.61 1173.84,1067.71 1174.38,1068.77C1175.07,1070.13 1175.6,1071.41 1176.02,1072.71C1177.32,1076.76 1177.49,1081 1177.89,1085.2C1178.38,1090.21 1179.19,1095.16 1179.77,1100.22C1180.25,1104.45 1180.56,1108.76 1181.24,1112.97C1181.72,1115.95 1182.38,1118.87 1183.42,1121.68C1184.2,1123.79 1185.19,1125.84 1186.43,1127.62C1187.17,1128.68 1187.99,1129.66 1188.91,1130.49C1189.86,1131.35 1190.9,1132.07 1192.05,1132.61C1193.11,1133.11 1194.27,1133.46 1195.53,1133.62C1197.19,1133.83 1199.03,1133.71 1201.06,1133.18C1348.24,1133.18 1495.42,1133.18 1642.6,1133.4" stroke="#ff00ff"/>
<path d="M965,1133.4C1045.36,1133.18 1125.71,1133.18 1206.07,1133.18C1208.46,1133.7 1210.68,1133.76 1212.75,1133.45C1214.87,1133.14 1216.83,1132.44 1218.64,1131.46C1220.31,1130.56 1221.86,1129.42 1223.31,1128.12C1225.15,1126.47 1226.81,1124.56 1228.33,1122.56C1229.8,1120.63 1231.12,1118.61 1232.34,1116.53C1233.92,1113.81 1235.31,1110.98 1236.55,1108.08C1237.95,1104.81 1239.17,1101.45 1240.29,1098.05C1241.53,1094.26 1242.64,1090.42 1243.75,1086.57C1244.84,1082.75 1245.93,1078.92 1247.1,1075.13C1248.16,1071.73 1249.3,1068.36 1250.59,1065.07C1251.66,1062.35 1252.83,1059.68 1254.16,1057.09C1254.89,1055.66 1255.66,1054.26 1256.91,1053.3C1257.85,1052.59 1259.05,1052.12 1260.24,1052.09C1261.43,1052.06 1262.61,1052.46 1263.6,1053.15C1264.91,1054.05 1265.9,1055.46 1266.69,1056.91C1268.15,1059.6 1268.94,1062.45 1269.83,1065.23C1270.99,1068.83 1272.31,1072.31 1273.7,1075.77C1275.26,1079.65 1276.9,1083.5 1278.47,1087.45C1279.83,1090.86 1281.14,1094.35 1282.54,1097.8C1283.97,1101.33 1285.49,1104.82 1287.24,1108.14C1288.74,1110.96 1290.41,1113.66 1292.34,1116.16C1294.13,1118.48 1296.16,1120.61 1298.36,1122.54C1300.13,1124.09 1302.02,1125.5 1304.01,1126.76C1305.96,1127.99 1308.01,1129.08 1310.13,1130C1312.47,1131.02 1314.91,1131.85 1317.41,1132.46C1320.26,1133.15 1323.19,1133.55 1326.17,1133.65C1328.71,1133.73 1331.28,1133.58 1333.87,1133.18C1436.78,1133.18 1539.69,1133.18 1642.6,1133.4" stroke="#9400d3"/>
<path d="M965,1133.4C1060.39,1133.18 1155.78,1133.18 1251.17,1133.18C1254.04,1133.53 1256.76,1133.57 1259.34,1133.34C1261.94,1133.1 1264.41,1132.6 1266.75,1131.85C1269.22,1131.07 1271.54,1130.02 1273.74,1128.75C1275.85,1127.54 1277.84,1126.13 1279.73,1124.56C1281.92,1122.74 1283.98,1120.71 1285.93,1118.52C1288.19,1115.98 1290.3,1113.23 1292.3,1110.37C1294.33,1107.46 1296.25,1104.44 1298.08,1101.4C1300.1,1098.04 1302.03,1094.66 1303.9,1091.39C1305.55,1088.52 1307.16,1085.73 1308.82,1082.91C1310.41,1080.24 1312.04,1077.53 1313.82,1074.7C1315.4,1072.17 1317.09,1069.54 1318.96,1067.15C1320.61,1065.03 1322.39,1063.1 1324.35,1061.59C1325.75,1060.52 1327.24,1059.66 1328.78,1059.1C1330.06,1058.64 1331.38,1058.38 1332.7,1058.38C1334.02,1058.38 1335.34,1058.63 1336.65,1059.04C1338.08,1059.5 1339.5,1060.16 1340.87,1060.92C1342.63,1061.9 1344.32,1063.03 1345.94,1064.3C1347.78,1065.72 1349.53,1067.31 1351.23,1069.01C1353.46,1071.24 1355.58,1073.65 1357.65,1076.14C1359.83,1078.75 1361.94,1081.45 1364.04,1084.08C1366.14,1086.71 1368.24,1089.29 1370.35,1091.79C1372.47,1094.3 1374.61,1096.73 1376.8,1099.08C1378.88,1101.31 1381.01,1103.48 1383.22,1105.55C1385.87,1108.04 1388.63,1110.41 1391.54,1112.63C1393.98,1114.5 1396.54,1116.26 1399.18,1117.92C1402.11,1119.75 1405.16,1121.45 1408.29,1122.99C1411.15,1124.41 1414.1,1125.69 1417.09,1126.84C1420.39,1128.11 1423.76,1129.2 1427.17,1130.12C1430.46,1131.01 1433.8,1131.72 1437.16,1132.26C1440.49,1132.79 1443.83,1133.14 1447.18,1133.29C1450.51,1133.45 1453.84,1133.42 1457.15,1133.18C1518.97,1133.18 1580.78,1133.18 1642.6,1133.4" stroke="#008000"/>
<path d="M965,1133.4C1083.78,1133.4 1202.56,1133.37 1321.34,1133.18C1324.45,1133.41 1327.48,1133.36 1330.44,1133.1C1333.43,1132.82 1336.35,1132.32 1339.2,1131.63C1342.14,1130.91 1345,1129.99 1347.8,1128.91C1350.74,1127.78 1353.6,1126.48 1356.4,1125.04C1359.37,1123.52 1362.28,1121.86 1365.12,1120.11C1368.16,1118.24 1371.13,1116.28 1374.04,1114.26C1377.06,1112.18 1380.03,1110.04 1382.95,1107.9C1385.64,1105.94 1388.29,1103.97 1390.91,1101.94C1393.63,1099.83 1396.33,1097.64 1399.01,1095.29C1401.68,1092.94 1404.35,1090.43 1407.04,1087.9C1409.62,1085.47 1412.22,1083.03 1414.88,1080.71C1417.37,1078.54 1419.92,1076.46 1422.55,1074.59C1424.99,1072.85 1427.51,1071.29 1430.13,1070C1432.52,1068.81 1434.99,1067.85 1437.52,1067.1C1439.92,1066.38 1442.38,1065.85 1444.86,1065.5C1447.67,1065.09 1450.52,1064.91 1453.38,1064.94C1456.24,1064.97 1459.1,1065.21 1461.94,1065.63C1464.85,1066.07 1467.73,1066.71 1470.59,1067.5C1473.52,1068.32 1476.43,1069.31 1479.32,1070.42C1482.71,1071.73 1486.07,1073.22 1489.41,1074.82C1492.83,1076.45 1496.22,1078.2 1499.6,1079.99C1503.02,1081.79 1506.41,1083.64 1509.81,1085.46C1513.16,1087.25 1516.51,1089.01 1519.87,1090.73C1523.22,1092.46 1526.57,1094.13 1529.94,1095.76C1533.27,1097.37 1536.61,1098.93 1539.98,1100.43C1543.29,1101.91 1546.62,1103.33 1549.98,1104.68C1553.27,1106.01 1556.59,1107.27 1559.92,1108.47C1563.26,1109.67 1566.62,1110.8 1570,1111.88C1573.32,1112.93 1576.66,1113.92 1580.01,1114.86C1583.31,1115.78 1586.64,1116.65 1589.97,1117.46C1593.26,1118.26 1596.57,1119.01 1599.9,1119.7C1602.54,1120.26 1605.19,1120.78 1607.85,1121.26C1613.5,1122.3 1619.18,1123.18 1624.88,1123.93C1630.76,1124.7 1636.67,1125.32 1642.6,1125.8" stroke="#00ffff"/>
<path d="M965,1133.4C1124.04,1133.4 1283.08,1133.39 1442.12,1133.18C1445.51,1133.22 1448.88,1133.13 1452.22,1132.9C1455.59,1132.68 1458.93,1132.32 1462.25,1131.86C1465.58,1131.4 1468.89,1130.82 1472.18,1130.14C1475.52,1129.46 1478.83,1128.68 1482.13,1127.81C1485.46,1126.93 1488.78,1125.97 1492.08,1124.94C1495.43,1123.9 1498.77,1122.78 1502.09,1121.61C1505.46,1120.42 1508.82,1119.18 1512.17,1117.9C1515.55,1116.61 1518.92,1115.28 1522.29,1113.94C1525.65,1112.59 1529,1111.22 1532.36,1109.86C1535.71,1108.49 1539.06,1107.12 1542.41,1105.78C1545.79,1104.42 1549.17,1103.07 1552.55,1101.76C1555.9,1100.46 1559.25,1099.18 1562.62,1097.94C1565.95,1096.71 1569.29,1095.51 1572.64,1094.35C1575.96,1093.21 1579.29,1092.1 1582.63,1091.05C1585.9,1090.01 1589.19,1089.02 1592.48,1088.09C1595.72,1087.18 1598.97,1086.31 1602.23,1085.49C1604.02,1085.05 1605.81,1084.61 1607.61,1084.19C1613.23,1082.87 1618.91,1081.68 1624.65,1080.57C1630.56,1079.43 1636.54,1078.39 1642.6,1077.4" stroke="#ffa500"/>
<path d="M965,1133.4C1140.74,1133.4 1316.49,1133.39 1492.23,1133.18C1496.41,1133.06 1500.58,1132.91 1504.75,1132.73C1508.93,1132.56 1513.1,1132.35 1517.27,1132.13C1521.45,1131.9 1525.63,1131.65 1529.8,1131.38C1533.98,1131.1 1538.16,1130.81 1542.34,1130.49C1546.52,1130.17 1550.7,1129.83 1554.88,1129.47C1559.06,1129.11 1563.25,1128.73 1567.43,1128.33C1571.61,1127.93 1575.79,1127.51 1579.96,1127.07C1584.14,1126.63 1588.3,1126.18 1592.47,1125.7C1597.65,1125.12 1602.82,1124.51 1607.99,1123.87C1613.64,1123.18 1619.29,1122.46 1624.94,1121.71C1630.83,1120.93 1636.72,1120.13 1642.6,1119.3" stroke="#808000"/>
</g>
<g fill="#000">
<text transform="translate(965,1161.7) scale(1,1.085)" font-family='"Liberation Serif","DejaVu Serif",serif' font-size="30" text-anchor="middle">0</text>
<text transform="translate(1134.4,1161.7) scale(1,1.085)" font-family='"Liberation Serif","DejaVu Serif",serif' font-size="30" text-anchor="middle">1000</text>
<text transform="translate(1303.8,1161.7) scale(1,1.085)" font-family='"Liberation Serif","DejaVu Serif",serif' font-size="30" text-anchor="middle">2000</text>
<text transform="translate(1473.2,1161.7) scale(1,1.085)" font-family='"Liberation Serif","DejaVu Serif",serif' font-size="30" text-anchor="middle">3000</text>
<text transform="translate(1642.6,1161.7) scale(1,1.085)" font-family='"Liberation Serif","DejaVu Serif",serif' font-size="30" text-anchor="middle">4000</text>
<text transform="translate(958.1,1144.5) scale(1,1.085)" font-family='"Liberation Serif","DejaVu Serif",serif' font-size="30" text-anchor="end">0.0</text>
<text transform="translate(958.1,1043.52) scale(1,1.085)" font-family='"Liberation Serif","DejaVu Serif",serif' font-size="30" text-anchor="end">0.2</text>
<text transform="translate(958.1,942.54) scale(1,1.085)" font-family='"Liberation Serif","DejaVu Serif",serif' font-size="30" text-anchor="end">0.4</text>
<text transform="translate(958.1,841.56) scale(1,1.085)" font-family='"Liberation Serif","DejaVu Serif",serif' font-size="30" text-anchor="end">0.6</text>
<text transform="translate(958.1,740.58) scale(1,1.085)" font-family='"Liberation Serif","DejaVu Serif",serif' font-size="30" text-anchor="end">0.8</text>
<text transform="translate(958.1,639.6) scale(1,1.085)" font-family='"Liberation Serif","DejaVu Serif",serif' font-size="30" text-anchor="end">1.0</text>
<text transform="translate(1649.1,1144.5) scale(1,1.085)" font-family='"Liberation Serif","DejaVu Serif",serif' font-size="30">0</text>
<text transform="translate(1649.1,1018.28) scale(1,1.085)" font-family='"Liberation Serif","DejaVu Serif",serif' font-size="30">0.1</text>
<text transform="translate(1649.1,892.05) scale(1,1.085)" font-family='"Liberation Serif","DejaVu Serif",serif' font-size="30">0.2</text>
<text transform="translate(1649.1,765.83) scale(1,1.085)" font-family='"Liberation Serif","DejaVu Serif",serif' font-size="30">0.3</text>
<text transform="translate(1649.1,639.6) scale(1,1.085)" font-family='"Liberation Serif","DejaVu Serif",serif' font-size="30">0.4</text>
</g>
<g fill="#000"><text transform="translate(1273.98,1197) scale(1.017,1.017)" font-family='"Liberation Serif","DejaVu Serif",serif' font-size="30" font-style="italic">v</text><text transform="translate(1288.03,1196.97) scale(1.112,1.112)" font-family='"Liberation Serif","DejaVu Serif",serif' font-size="30" font-style="italic">t</text><text transform="translate(1301.9,1204.16) scale(1.356,1.485)" font-family='"Liberation Serif","DejaVu Serif",serif' font-size="30">/</text><text transform="translate(1313.84,1197.02) scale(0.968,0.968)" font-family='"Liberation Serif","DejaVu Serif",serif' font-size="30" font-style="italic">ω</text></g>
<g fill="#000" transform="translate(905.5,880.95) rotate(-90)"><text transform="translate(-50.23,0) scale(1.049,1.049)" font-family='"Liberation Serif","DejaVu Serif",serif' font-size="30" font-style="italic">P</text><text transform="translate(-28.17,0.32) scale(1.194,1.125)" font-family='"Liberation Serif","DejaVu Serif",serif' font-size="30">(</text><text transform="translate(-24.7,-0.25) scale(1.487,1.536)" font-family='"Liberation Serif","DejaVu Serif",serif' font-size="30">→</text><text transform="translate(13.53,0.45) scale(0.851,1.116)" font-family='"Liberation Serif","DejaVu Serif",serif' font-size="30">,</text><text transform="translate(25.87,0) scale(0.991,1.037)" font-family='"Liberation Serif","DejaVu Serif",serif' font-size="30">0</text><text transform="translate(38.55,0.32) scale(1.194,1.125)" font-family='"Liberation Serif","DejaVu Serif",serif' font-size="30">)</text></g>
<g fill="#000" transform="translate(1717.5,880.95) rotate(-90)"><text transform="translate(-44.53,0) scale(1.049,1.049)" font-family='"Liberation Serif","DejaVu Serif",serif' font-size="30" font-style="italic">P</text><text transform="translate(-23.17,0.32) scale(1.194,1.125)" font-family='"Liberation Serif","DejaVu Serif",serif' font-size="30">(</text><text transform="translate(-12.32,-0.48) scale(0.967,0.967)" font-family='"Liberation Serif","DejaVu Serif",serif' font-size="30" font-style="italic">γ</text><text transform="translate(4.83,0.45) scale(0.851,1.116)" font-family='"Liberation Serif","DejaVu Serif",serif' font-size="30">,</text><text transform="translate(19.17,0) scale(0.962,0.962)" font-family='"Liberation Serif","DejaVu Serif",serif' font-size="30" font-style="italic">n</text><text transform="translate(33.05,0.32) scale(1.194,1.125)" font-family='"Liberation Serif","DejaVu Serif",serif' font-size="30">)</text></g>
</g>
<rect x="1075.4" y="648.8" width="141.5" height="54.6" rx="4.3" fill="#fff" fill-opacity="0.8" stroke="#ccc" stroke-width="2"/>
<path d="M1085.9,673h18.4" stroke="#ff0000" stroke-width="3.3"/>
<g fill="#ff0000"><text transform="translate(1119.14,684.1) scale(0.870,1.081)" font-family='"Liberation Serif","DejaVu Serif",serif' font-size="30">|</text><text transform="translate(1127.06,683.85) scale(1.493,1.536)" font-family='"Liberation Serif","DejaVu Serif",serif' font-size="30">→</text><text transform="translate(1166.5,684) scale(1,1.085)" font-family='"Liberation Serif","DejaVu Serif",serif' font-size="30">,</text><text transform="translate(1178,684) scale(1,1.085)" font-family='"Liberation Serif","DejaVu Serif",serif' font-size="30">0</text><text transform="translate(1193.6,686.73) scale(0.831,1.104)" font-family='"DejaVu Sans","Liberation Serif",sans-serif' font-size="30">⟩</text></g>
<rect x="1252.4" y="719.2" width="368.4" height="190.4" rx="4.3" fill="#fff" fill-opacity="0.8" stroke="#ccc" stroke-width="2"/>
<path d="M1263.2,743.4h17.6" stroke="#00ff00" stroke-width="2.2"/>
<g fill="#00ff00"><text transform="translate(1296.44,754.5) scale(0.870,1.081)" font-family='"Liberation Serif","DejaVu Serif",serif' font-size="30">|</text><text transform="translate(1304.36,754.25) scale(1.493,1.536)" font-family='"Liberation Serif","DejaVu Serif",serif' font-size="30">→</text><text transform="translate(1342.9,754.4) scale(1,1.085)" font-family='"Liberation Serif","DejaVu Serif",serif' font-size="30">,2</text><text transform="translate(1365.4,757.13) scale(0.831,1.104)" font-family='"DejaVu Sans","Liberation Serif",sans-serif' font-size="30">⟩</text></g>
<path d="M1263.2,788.9h17.6" stroke="#0000ff" stroke-width="2.2"/>
<g fill="#0000ff"><text transform="translate(1296.44,800) scale(0.870,1.081)" font-family='"Liberation Serif","DejaVu Serif",serif' font-size="30">|</text><text transform="translate(1304.36,799.75) scale(1.493,1.536)" font-family='"Liberation Serif","DejaVu Serif",serif' font-size="30">→</text><text transform="translate(1342.9,799.9) scale(1,1.085)" font-family='"Liberation Serif","DejaVu Serif",serif' font-size="30">,20</text><text transform="translate(1380.4,802.63) scale(0.831,1.104)" font-family='"DejaVu Sans","Liberation Serif",sans-serif' font-size="30">⟩</text></g>
<path d="M1263.2,834.4h17.6" stroke="#ff00ff" stroke-width="2.2"/>
<g fill="#ff00ff"><text transform="translate(1296.44,845.5) scale(0.870,1.081)" font-family='"Liberation Serif","DejaVu Serif",serif' font-size="30">|</text><text transform="translate(1304.36,845.25) scale(1.493,1.536)" font-family='"Liberation Serif","DejaVu Serif",serif' font-size="30">→</text><text transform="translate(1342.9,845.4) scale(1,1.085)" font-family='"Liberation Serif","DejaVu Serif",serif' font-size="30">,100</text><text transform="translate(1395.4,848.13) scale(0.831,1.104)" font-family='"DejaVu Sans","Liberation Serif",sans-serif' font-size="30">⟩</text></g>
<path d="M1263.2,879.9h17.6" stroke="#9400d3" stroke-width="2.2"/>
<g fill="#9400d3"><text transform="translate(1296.44,891) scale(0.870,1.081)" font-family='"Liberation Serif","DejaVu Serif",serif' font-size="30">|</text><text transform="translate(1304.36,890.75) scale(1.493,1.536)" font-family='"Liberation Serif","DejaVu Serif",serif' font-size="30">→</text><text transform="translate(1342.9,890.9) scale(1,1.085)" font-family='"Liberation Serif","DejaVu Serif",serif' font-size="30">,200</text><text transform="translate(1395.4,893.63) scale(0.831,1.104)" font-family='"DejaVu Sans","Liberation Serif",sans-serif' font-size="30">⟩</text></g>
<path d="M1466,743.4h17.6" stroke="#008000" stroke-width="2.2"/>
<g fill="#008000"><text transform="translate(1499.24,754.5) scale(0.870,1.081)" font-family='"Liberation Serif","DejaVu Serif",serif' font-size="30">|</text><text transform="translate(1507.16,754.25) scale(1.493,1.536)" font-family='"Liberation Serif","DejaVu Serif",serif' font-size="30">→</text><text transform="translate(1545.7,754.4) scale(1,1.085)" font-family='"Liberation Serif","DejaVu Serif",serif' font-size="30">,240</text><text transform="translate(1598.2,757.13) scale(0.831,1.104)" font-family='"DejaVu Sans","Liberation Serif",sans-serif' font-size="30">⟩</text></g>
<path d="M1466,788.9h17.6" stroke="#00ffff" stroke-width="2.2"/>
<g fill="#00ffff"><text transform="translate(1499.24,800) scale(0.870,1.081)" font-family='"Liberation Serif","DejaVu Serif",serif' font-size="30">|</text><text transform="translate(1507.16,799.75) scale(1.493,1.536)" font-family='"Liberation Serif","DejaVu Serif",serif' font-size="30">→</text><text transform="translate(1545.7,799.9) scale(1,1.085)" font-family='"Liberation Serif","DejaVu Serif",serif' font-size="30">,280</text><text transform="translate(1598.2,802.63) scale(0.831,1.104)" font-family='"DejaVu Sans","Liberation Serif",sans-serif' font-size="30">⟩</text></g>
<path d="M1466,834.4h17.6" stroke="#ffa500" stroke-width="2.2"/>
<g fill="#ffa500"><text transform="translate(1499.24,845.5) scale(0.870,1.081)" font-family='"Liberation Serif","DejaVu Serif",serif' font-size="30">|</text><text transform="translate(1507.16,845.25) scale(1.493,1.536)" font-family='"Liberation Serif","DejaVu Serif",serif' font-size="30">→</text><text transform="translate(1545.7,845.4) scale(1,1.085)" font-family='"Liberation Serif","DejaVu Serif",serif' font-size="30">,320</text><text transform="translate(1598.2,848.13) scale(0.831,1.104)" font-family='"DejaVu Sans","Liberation Serif",sans-serif' font-size="30">⟩</text></g>
<path d="M1466,879.9h17.6" stroke="#808000" stroke-width="2.2"/>
<g fill="#808000"><text transform="translate(1499.24,891) scale(0.870,1.081)" font-family='"Liberation Serif","DejaVu Serif",serif' font-size="30">|</text><text transform="translate(1507.16,890.75) scale(1.493,1.536)" font-family='"Liberation Serif","DejaVu Serif",serif' font-size="30">→</text><text transform="translate(1545.7,890.9) scale(1,1.085)" font-family='"Liberation Serif","DejaVu Serif",serif' font-size="30">,340</text><text transform="translate(1598.2,893.63) scale(0.831,1.104)" font-family='"DejaVu Sans","Liberation Serif",sans-serif' font-size="30">⟩</text></g>
<g fill="#000"><text transform="translate(1559.76,679.82) scale(1.090,1.125)" font-family='"Liberation Serif","DejaVu Serif",serif' font-size="30">(</text><text transform="translate(1570.96,679.31) scale(1.104,1.000)" font-family='"Liberation Serif","DejaVu Serif",serif' font-size="30" font-weight="bold">d</text><text transform="translate(1589.85,679.82) scale(1.090,1.125)" font-family='"Liberation Serif","DejaVu Serif",serif' font-size="30">)</text></g>
</svg>
</body></html>
